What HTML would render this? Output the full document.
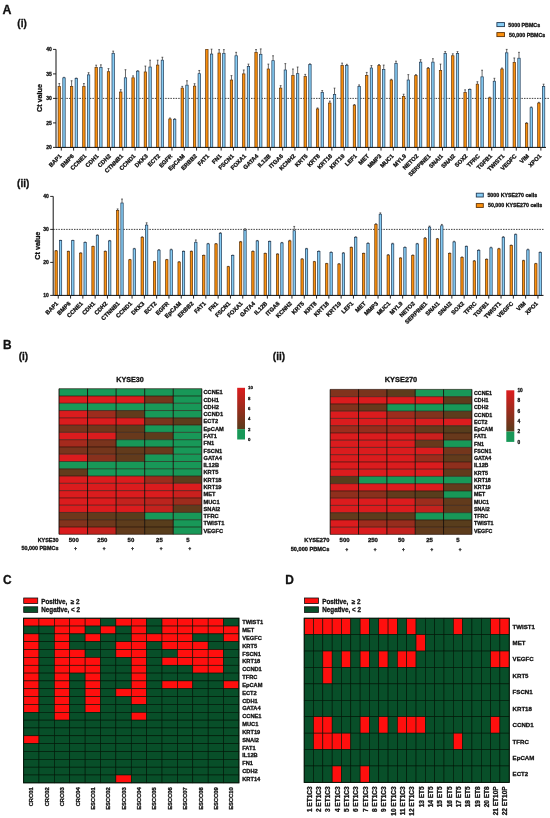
<!DOCTYPE html>
<html lang="en"><head><meta charset="utf-8"><title>Figure</title>
<style>
html,body{margin:0;padding:0;background:#fff;}
body{width:550px;height:818px;overflow:hidden;}
svg{display:block;filter:blur(.35px);}
svg text{font-family:"Liberation Sans",Arial,Helvetica,sans-serif;font-weight:bold;fill:#111;stroke:#111;stroke-width:.3px;stroke-linejoin:round;}
</style></head><body>
<svg width="550" height="818" viewBox="0 0 550 818">
<rect width="550" height="818" fill="#fff"/>
<g id="panelA">
<text x="2.4" y="13.9" font-size="12.4" stroke-width="0.5">A</text>
<text x="17.3" y="26.9" font-size="10">(i)</text>
<text x="17.1" y="187" font-size="10">(ii)</text>
<text transform="translate(42 98) rotate(-90)" font-size="7.2" text-anchor="middle">Ct value</text>
<text transform="translate(40 245.7) rotate(-90)" font-size="7.2" text-anchor="middle">Ct value</text>
<line x1="56" y1="98.40" x2="550" y2="98.40" stroke="#111" stroke-width="0.8" stroke-dasharray="1.5 1.1"/>
<path d="M59.30 86.64V83.55M58.40 83.55h1.8" stroke="#2a2a2a" stroke-width="0.7" fill="none"/>
<rect x="58.10" y="86.64" width="2.4" height="60.76" fill="#fa900e" stroke="#5e3206" stroke-width="0.7"/>
<path d="M64.00 77.82V77.33M63.10 77.33h1.8" stroke="#2a2a2a" stroke-width="0.7" fill="none"/>
<rect x="62.80" y="77.82" width="2.4" height="69.58" fill="#86ccf4" stroke="#203a55" stroke-width="0.7"/>
<path d="M71.60 86.64V80.76M70.70 80.76h1.8" stroke="#2a2a2a" stroke-width="0.7" fill="none"/>
<rect x="70.40" y="86.64" width="2.4" height="60.76" fill="#fa900e" stroke="#5e3206" stroke-width="0.7"/>
<path d="M76.30 78.56V78.07M75.40 78.07h1.8" stroke="#2a2a2a" stroke-width="0.7" fill="none"/>
<rect x="75.10" y="78.56" width="2.4" height="68.84" fill="#86ccf4" stroke="#203a55" stroke-width="0.7"/>
<path d="M83.89 86.64V83.55M82.99 83.55h1.8" stroke="#2a2a2a" stroke-width="0.7" fill="none"/>
<rect x="82.69" y="86.64" width="2.4" height="60.76" fill="#fa900e" stroke="#5e3206" stroke-width="0.7"/>
<path d="M88.59 74.88V72.68M87.69 72.68h1.8" stroke="#2a2a2a" stroke-width="0.7" fill="none"/>
<rect x="87.39" y="74.88" width="2.4" height="72.52" fill="#86ccf4" stroke="#203a55" stroke-width="0.7"/>
<path d="M96.19 67.53V65.18M95.29 65.18h1.8" stroke="#2a2a2a" stroke-width="0.7" fill="none"/>
<rect x="94.99" y="67.53" width="2.4" height="79.87" fill="#fa900e" stroke="#5e3206" stroke-width="0.7"/>
<path d="M100.89 67.53V64.84M99.99 64.84h1.8" stroke="#2a2a2a" stroke-width="0.7" fill="none"/>
<rect x="99.69" y="67.53" width="2.4" height="79.87" fill="#86ccf4" stroke="#203a55" stroke-width="0.7"/>
<path d="M108.49 71.69V68.61M107.59 68.61h1.8" stroke="#2a2a2a" stroke-width="0.7" fill="none"/>
<rect x="107.29" y="71.69" width="2.4" height="75.71" fill="#fa900e" stroke="#5e3206" stroke-width="0.7"/>
<path d="M113.19 53.32V51.11M112.29 51.11h1.8" stroke="#2a2a2a" stroke-width="0.7" fill="none"/>
<rect x="111.99" y="53.32" width="2.4" height="94.08" fill="#86ccf4" stroke="#203a55" stroke-width="0.7"/>
<path d="M120.78 92.03V89.68M119.88 89.68h1.8" stroke="#2a2a2a" stroke-width="0.7" fill="none"/>
<rect x="119.58" y="92.03" width="2.4" height="55.37" fill="#fa900e" stroke="#5e3206" stroke-width="0.7"/>
<path d="M125.48 77.82V69.73M124.58 69.73h1.8" stroke="#2a2a2a" stroke-width="0.7" fill="none"/>
<rect x="124.28" y="77.82" width="2.4" height="69.58" fill="#86ccf4" stroke="#203a55" stroke-width="0.7"/>
<path d="M133.08 77.82V75.86M132.18 75.86h1.8" stroke="#2a2a2a" stroke-width="0.7" fill="none"/>
<rect x="131.88" y="77.82" width="2.4" height="69.58" fill="#fa900e" stroke="#5e3206" stroke-width="0.7"/>
<path d="M137.78 71.21V70.72M136.88 70.72h1.8" stroke="#2a2a2a" stroke-width="0.7" fill="none"/>
<rect x="136.58" y="71.21" width="2.4" height="76.19" fill="#86ccf4" stroke="#203a55" stroke-width="0.7"/>
<path d="M145.38 71.94V66.06M144.48 66.06h1.8" stroke="#2a2a2a" stroke-width="0.7" fill="none"/>
<rect x="144.18" y="71.94" width="2.4" height="75.46" fill="#fa900e" stroke="#5e3206" stroke-width="0.7"/>
<path d="M150.08 67.04V60.18M149.18 60.18h1.8" stroke="#2a2a2a" stroke-width="0.7" fill="none"/>
<rect x="148.88" y="67.04" width="2.4" height="80.36" fill="#86ccf4" stroke="#203a55" stroke-width="0.7"/>
<path d="M157.68 65.08V60.18M156.78 60.18h1.8" stroke="#2a2a2a" stroke-width="0.7" fill="none"/>
<rect x="156.48" y="65.08" width="2.4" height="82.32" fill="#fa900e" stroke="#5e3206" stroke-width="0.7"/>
<path d="M162.38 60.18V57.24M161.48 57.24h1.8" stroke="#2a2a2a" stroke-width="0.7" fill="none"/>
<rect x="161.18" y="60.18" width="2.4" height="87.22" fill="#86ccf4" stroke="#203a55" stroke-width="0.7"/>
<path d="M169.97 118.98V118.00M169.07 118.00h1.8" stroke="#2a2a2a" stroke-width="0.7" fill="none"/>
<rect x="168.77" y="118.98" width="2.4" height="28.42" fill="#fa900e" stroke="#5e3206" stroke-width="0.7"/>
<path d="M174.67 119.47V118.73M173.77 118.73h1.8" stroke="#2a2a2a" stroke-width="0.7" fill="none"/>
<rect x="173.47" y="119.47" width="2.4" height="27.93" fill="#86ccf4" stroke="#203a55" stroke-width="0.7"/>
<path d="M182.27 88.11V86.39M181.37 86.39h1.8" stroke="#2a2a2a" stroke-width="0.7" fill="none"/>
<rect x="181.07" y="88.11" width="2.4" height="59.29" fill="#fa900e" stroke="#5e3206" stroke-width="0.7"/>
<path d="M186.97 85.17V80.76M186.07 80.76h1.8" stroke="#2a2a2a" stroke-width="0.7" fill="none"/>
<rect x="185.77" y="85.17" width="2.4" height="62.23" fill="#86ccf4" stroke="#203a55" stroke-width="0.7"/>
<path d="M194.57 86.15V83.70M193.67 83.70h1.8" stroke="#2a2a2a" stroke-width="0.7" fill="none"/>
<rect x="193.37" y="86.15" width="2.4" height="61.25" fill="#fa900e" stroke="#5e3206" stroke-width="0.7"/>
<path d="M199.27 73.66V70.47M198.37 70.47h1.8" stroke="#2a2a2a" stroke-width="0.7" fill="none"/>
<rect x="198.07" y="73.66" width="2.4" height="73.74" fill="#86ccf4" stroke="#203a55" stroke-width="0.7"/>
<rect x="205.66" y="49.40" width="2.4" height="98.00" fill="#fa900e" stroke="#5e3206" stroke-width="0.7"/>
<path d="M211.56 54.06V49.16M210.66 49.16h1.8" stroke="#2a2a2a" stroke-width="0.7" fill="none"/>
<rect x="210.36" y="54.06" width="2.4" height="93.34" fill="#86ccf4" stroke="#203a55" stroke-width="0.7"/>
<path d="M219.16 53.08V49.65M218.26 49.65h1.8" stroke="#2a2a2a" stroke-width="0.7" fill="none"/>
<rect x="217.96" y="53.08" width="2.4" height="94.33" fill="#fa900e" stroke="#5e3206" stroke-width="0.7"/>
<path d="M223.86 53.32V49.64M222.96 49.64h1.8" stroke="#2a2a2a" stroke-width="0.7" fill="none"/>
<rect x="222.66" y="53.32" width="2.4" height="94.08" fill="#86ccf4" stroke="#203a55" stroke-width="0.7"/>
<path d="M231.46 80.03V75.62M230.56 75.62h1.8" stroke="#2a2a2a" stroke-width="0.7" fill="none"/>
<rect x="230.26" y="80.03" width="2.4" height="67.38" fill="#fa900e" stroke="#5e3206" stroke-width="0.7"/>
<path d="M236.16 55.77V52.34M235.26 52.34h1.8" stroke="#2a2a2a" stroke-width="0.7" fill="none"/>
<rect x="234.96" y="55.77" width="2.4" height="91.63" fill="#86ccf4" stroke="#203a55" stroke-width="0.7"/>
<path d="M243.75 73.90V69.98M242.85 69.98h1.8" stroke="#2a2a2a" stroke-width="0.7" fill="none"/>
<rect x="242.56" y="73.90" width="2.4" height="73.50" fill="#fa900e" stroke="#5e3206" stroke-width="0.7"/>
<path d="M248.45 66.55V64.10M247.55 64.10h1.8" stroke="#2a2a2a" stroke-width="0.7" fill="none"/>
<rect x="247.25" y="66.55" width="2.4" height="80.85" fill="#86ccf4" stroke="#203a55" stroke-width="0.7"/>
<path d="M256.05 52.34V49.55M255.15 49.55h1.8" stroke="#2a2a2a" stroke-width="0.7" fill="none"/>
<rect x="254.85" y="52.34" width="2.4" height="95.06" fill="#fa900e" stroke="#5e3206" stroke-width="0.7"/>
<path d="M260.75 54.30V48.91M259.85 48.91h1.8" stroke="#2a2a2a" stroke-width="0.7" fill="none"/>
<rect x="259.55" y="54.30" width="2.4" height="93.10" fill="#86ccf4" stroke="#203a55" stroke-width="0.7"/>
<path d="M268.35 69.00V64.10M267.45 64.10h1.8" stroke="#2a2a2a" stroke-width="0.7" fill="none"/>
<rect x="267.15" y="69.00" width="2.4" height="78.40" fill="#fa900e" stroke="#5e3206" stroke-width="0.7"/>
<path d="M273.05 60.67V55.77M272.15 55.77h1.8" stroke="#2a2a2a" stroke-width="0.7" fill="none"/>
<rect x="271.85" y="60.67" width="2.4" height="86.73" fill="#86ccf4" stroke="#203a55" stroke-width="0.7"/>
<path d="M280.65 88.11V85.66M279.75 85.66h1.8" stroke="#2a2a2a" stroke-width="0.7" fill="none"/>
<rect x="279.45" y="88.11" width="2.4" height="59.29" fill="#fa900e" stroke="#5e3206" stroke-width="0.7"/>
<path d="M285.35 69.98V63.61M284.45 63.61h1.8" stroke="#2a2a2a" stroke-width="0.7" fill="none"/>
<rect x="284.15" y="69.98" width="2.4" height="77.42" fill="#86ccf4" stroke="#203a55" stroke-width="0.7"/>
<path d="M292.94 75.62V69.00M292.04 69.00h1.8" stroke="#2a2a2a" stroke-width="0.7" fill="none"/>
<rect x="291.74" y="75.62" width="2.4" height="71.78" fill="#fa900e" stroke="#5e3206" stroke-width="0.7"/>
<path d="M297.64 73.66V67.04M296.74 67.04h1.8" stroke="#2a2a2a" stroke-width="0.7" fill="none"/>
<rect x="296.44" y="73.66" width="2.4" height="73.74" fill="#86ccf4" stroke="#203a55" stroke-width="0.7"/>
<path d="M305.24 76.59V74.39M304.34 74.39h1.8" stroke="#2a2a2a" stroke-width="0.7" fill="none"/>
<rect x="304.04" y="76.59" width="2.4" height="70.81" fill="#fa900e" stroke="#5e3206" stroke-width="0.7"/>
<path d="M309.94 64.59V63.86M309.04 63.86h1.8" stroke="#2a2a2a" stroke-width="0.7" fill="none"/>
<rect x="308.74" y="64.59" width="2.4" height="82.81" fill="#86ccf4" stroke="#203a55" stroke-width="0.7"/>
<path d="M317.54 108.94V107.95M316.64 107.95h1.8" stroke="#2a2a2a" stroke-width="0.7" fill="none"/>
<rect x="316.34" y="108.94" width="2.4" height="38.47" fill="#fa900e" stroke="#5e3206" stroke-width="0.7"/>
<path d="M322.24 92.52V90.56M321.34 90.56h1.8" stroke="#2a2a2a" stroke-width="0.7" fill="none"/>
<rect x="321.04" y="92.52" width="2.4" height="54.88" fill="#86ccf4" stroke="#203a55" stroke-width="0.7"/>
<path d="M329.83 103.06V101.10M328.93 101.10h1.8" stroke="#2a2a2a" stroke-width="0.7" fill="none"/>
<rect x="328.63" y="103.06" width="2.4" height="44.34" fill="#fa900e" stroke="#5e3206" stroke-width="0.7"/>
<path d="M334.53 94.48V88.11M333.63 88.11h1.8" stroke="#2a2a2a" stroke-width="0.7" fill="none"/>
<rect x="333.33" y="94.48" width="2.4" height="52.92" fill="#86ccf4" stroke="#203a55" stroke-width="0.7"/>
<path d="M342.13 65.57V63.12M341.23 63.12h1.8" stroke="#2a2a2a" stroke-width="0.7" fill="none"/>
<rect x="340.93" y="65.57" width="2.4" height="81.83" fill="#fa900e" stroke="#5e3206" stroke-width="0.7"/>
<path d="M346.83 65.57V64.34M345.93 64.34h1.8" stroke="#2a2a2a" stroke-width="0.7" fill="none"/>
<rect x="345.63" y="65.57" width="2.4" height="81.83" fill="#86ccf4" stroke="#203a55" stroke-width="0.7"/>
<path d="M354.43 105.26V104.52M353.53 104.52h1.8" stroke="#2a2a2a" stroke-width="0.7" fill="none"/>
<rect x="353.23" y="105.26" width="2.4" height="42.14" fill="#fa900e" stroke="#5e3206" stroke-width="0.7"/>
<path d="M359.13 86.39V84.92M358.23 84.92h1.8" stroke="#2a2a2a" stroke-width="0.7" fill="none"/>
<rect x="357.93" y="86.39" width="2.4" height="61.01" fill="#86ccf4" stroke="#203a55" stroke-width="0.7"/>
<path d="M366.73 75.62V72.43M365.83 72.43h1.8" stroke="#2a2a2a" stroke-width="0.7" fill="none"/>
<rect x="365.53" y="75.62" width="2.4" height="71.78" fill="#fa900e" stroke="#5e3206" stroke-width="0.7"/>
<path d="M371.43 68.02V65.57M370.53 65.57h1.8" stroke="#2a2a2a" stroke-width="0.7" fill="none"/>
<rect x="370.23" y="68.02" width="2.4" height="79.38" fill="#86ccf4" stroke="#203a55" stroke-width="0.7"/>
<path d="M379.02 65.57V64.59M378.12 64.59h1.8" stroke="#2a2a2a" stroke-width="0.7" fill="none"/>
<rect x="377.82" y="65.57" width="2.4" height="81.83" fill="#fa900e" stroke="#5e3206" stroke-width="0.7"/>
<path d="M383.72 69.49V65.08M382.82 65.08h1.8" stroke="#2a2a2a" stroke-width="0.7" fill="none"/>
<rect x="382.52" y="69.49" width="2.4" height="77.91" fill="#86ccf4" stroke="#203a55" stroke-width="0.7"/>
<path d="M391.32 80.03V79.29M390.42 79.29h1.8" stroke="#2a2a2a" stroke-width="0.7" fill="none"/>
<rect x="390.12" y="80.03" width="2.4" height="67.38" fill="#fa900e" stroke="#5e3206" stroke-width="0.7"/>
<path d="M396.02 63.61V61.16M395.12 61.16h1.8" stroke="#2a2a2a" stroke-width="0.7" fill="none"/>
<rect x="394.82" y="63.61" width="2.4" height="83.79" fill="#86ccf4" stroke="#203a55" stroke-width="0.7"/>
<path d="M403.62 96.44V94.24M402.72 94.24h1.8" stroke="#2a2a2a" stroke-width="0.7" fill="none"/>
<rect x="402.42" y="96.44" width="2.4" height="50.96" fill="#fa900e" stroke="#5e3206" stroke-width="0.7"/>
<path d="M408.32 80.03V74.64M407.42 74.64h1.8" stroke="#2a2a2a" stroke-width="0.7" fill="none"/>
<rect x="407.12" y="80.03" width="2.4" height="67.38" fill="#86ccf4" stroke="#203a55" stroke-width="0.7"/>
<path d="M415.91 75.62V74.64M415.01 74.64h1.8" stroke="#2a2a2a" stroke-width="0.7" fill="none"/>
<rect x="414.71" y="75.62" width="2.4" height="71.78" fill="#fa900e" stroke="#5e3206" stroke-width="0.7"/>
<path d="M420.61 62.14V59.69M419.71 59.69h1.8" stroke="#2a2a2a" stroke-width="0.7" fill="none"/>
<rect x="419.41" y="62.14" width="2.4" height="85.26" fill="#86ccf4" stroke="#203a55" stroke-width="0.7"/>
<path d="M428.21 68.51V67.53M427.31 67.53h1.8" stroke="#2a2a2a" stroke-width="0.7" fill="none"/>
<rect x="427.01" y="68.51" width="2.4" height="78.89" fill="#fa900e" stroke="#5e3206" stroke-width="0.7"/>
<path d="M432.91 62.14V58.71M432.01 58.71h1.8" stroke="#2a2a2a" stroke-width="0.7" fill="none"/>
<rect x="431.71" y="62.14" width="2.4" height="85.26" fill="#86ccf4" stroke="#203a55" stroke-width="0.7"/>
<path d="M440.51 70.47V64.10M439.61 64.10h1.8" stroke="#2a2a2a" stroke-width="0.7" fill="none"/>
<rect x="439.31" y="70.47" width="2.4" height="76.93" fill="#fa900e" stroke="#5e3206" stroke-width="0.7"/>
<path d="M445.21 53.57V51.61M444.31 51.61h1.8" stroke="#2a2a2a" stroke-width="0.7" fill="none"/>
<rect x="444.01" y="53.57" width="2.4" height="93.83" fill="#86ccf4" stroke="#203a55" stroke-width="0.7"/>
<path d="M452.80 55.77V53.81M451.90 53.81h1.8" stroke="#2a2a2a" stroke-width="0.7" fill="none"/>
<rect x="451.60" y="55.77" width="2.4" height="91.63" fill="#fa900e" stroke="#5e3206" stroke-width="0.7"/>
<path d="M457.50 53.57V51.61M456.60 51.61h1.8" stroke="#2a2a2a" stroke-width="0.7" fill="none"/>
<rect x="456.30" y="53.57" width="2.4" height="93.83" fill="#86ccf4" stroke="#203a55" stroke-width="0.7"/>
<path d="M465.10 92.52V89.83M464.20 89.83h1.8" stroke="#2a2a2a" stroke-width="0.7" fill="none"/>
<rect x="463.90" y="92.52" width="2.4" height="54.88" fill="#fa900e" stroke="#5e3206" stroke-width="0.7"/>
<path d="M469.80 89.58V89.09M468.90 89.09h1.8" stroke="#2a2a2a" stroke-width="0.7" fill="none"/>
<rect x="468.60" y="89.58" width="2.4" height="57.82" fill="#86ccf4" stroke="#203a55" stroke-width="0.7"/>
<path d="M477.40 84.19V81.74M476.50 81.74h1.8" stroke="#2a2a2a" stroke-width="0.7" fill="none"/>
<rect x="476.20" y="84.19" width="2.4" height="63.21" fill="#fa900e" stroke="#5e3206" stroke-width="0.7"/>
<path d="M482.10 76.84V70.23M481.20 70.23h1.8" stroke="#2a2a2a" stroke-width="0.7" fill="none"/>
<rect x="480.90" y="76.84" width="2.4" height="70.56" fill="#86ccf4" stroke="#203a55" stroke-width="0.7"/>
<path d="M489.70 97.91V97.17M488.80 97.17h1.8" stroke="#2a2a2a" stroke-width="0.7" fill="none"/>
<rect x="488.50" y="97.91" width="2.4" height="49.49" fill="#fa900e" stroke="#5e3206" stroke-width="0.7"/>
<path d="M494.40 81.25V78.31M493.50 78.31h1.8" stroke="#2a2a2a" stroke-width="0.7" fill="none"/>
<rect x="493.20" y="81.25" width="2.4" height="66.15" fill="#86ccf4" stroke="#203a55" stroke-width="0.7"/>
<path d="M501.99 69.00V68.02M501.09 68.02h1.8" stroke="#2a2a2a" stroke-width="0.7" fill="none"/>
<rect x="500.79" y="69.00" width="2.4" height="78.40" fill="#fa900e" stroke="#5e3206" stroke-width="0.7"/>
<path d="M506.69 52.83V49.40M505.79 49.40h1.8" stroke="#2a2a2a" stroke-width="0.7" fill="none"/>
<rect x="505.49" y="52.83" width="2.4" height="94.57" fill="#86ccf4" stroke="#203a55" stroke-width="0.7"/>
<path d="M514.29 62.38V57.97M513.39 57.97h1.8" stroke="#2a2a2a" stroke-width="0.7" fill="none"/>
<rect x="513.09" y="62.38" width="2.4" height="85.02" fill="#fa900e" stroke="#5e3206" stroke-width="0.7"/>
<path d="M518.99 58.22V52.34M518.09 52.34h1.8" stroke="#2a2a2a" stroke-width="0.7" fill="none"/>
<rect x="517.79" y="58.22" width="2.4" height="89.18" fill="#86ccf4" stroke="#203a55" stroke-width="0.7"/>
<path d="M526.59 123.39V122.66M525.69 122.66h1.8" stroke="#2a2a2a" stroke-width="0.7" fill="none"/>
<rect x="525.39" y="123.39" width="2.4" height="24.01" fill="#fa900e" stroke="#5e3206" stroke-width="0.7"/>
<path d="M531.29 107.71V106.97M530.39 106.97h1.8" stroke="#2a2a2a" stroke-width="0.7" fill="none"/>
<rect x="530.09" y="107.71" width="2.4" height="39.69" fill="#86ccf4" stroke="#203a55" stroke-width="0.7"/>
<path d="M538.88 103.06V102.32M537.98 102.32h1.8" stroke="#2a2a2a" stroke-width="0.7" fill="none"/>
<rect x="537.68" y="103.06" width="2.4" height="44.34" fill="#fa900e" stroke="#5e3206" stroke-width="0.7"/>
<path d="M543.58 86.64V84.19M542.68 84.19h1.8" stroke="#2a2a2a" stroke-width="0.7" fill="none"/>
<rect x="542.38" y="86.64" width="2.4" height="60.76" fill="#86ccf4" stroke="#203a55" stroke-width="0.7"/>
<path d="M56 49.40V147.4H546" stroke="#111" stroke-width="1" fill="none"/>
<line x1="53" y1="147.40" x2="56" y2="147.40" stroke="#111" stroke-width="0.9"/>
<text x="51.7" y="149.20" font-size="5" text-anchor="end">20</text>
<line x1="53" y1="122.90" x2="56" y2="122.90" stroke="#111" stroke-width="0.9"/>
<text x="51.7" y="124.70" font-size="5" text-anchor="end">25</text>
<line x1="53" y1="98.40" x2="56" y2="98.40" stroke="#111" stroke-width="0.9"/>
<text x="51.7" y="100.20" font-size="5" text-anchor="end">30</text>
<line x1="53" y1="73.90" x2="56" y2="73.90" stroke="#111" stroke-width="0.9"/>
<text x="51.7" y="75.70" font-size="5" text-anchor="end">35</text>
<line x1="53" y1="49.40" x2="56" y2="49.40" stroke="#111" stroke-width="0.9"/>
<text x="51.7" y="51.20" font-size="5" text-anchor="end">40</text>
<line x1="61.30" y1="147.4" x2="61.30" y2="150.6" stroke="#111" stroke-width="0.9"/>
<text transform="translate(62.10 156.5) rotate(-45)" font-size="5.8" text-anchor="end">BAP1</text>
<line x1="73.60" y1="147.4" x2="73.60" y2="150.6" stroke="#111" stroke-width="0.9"/>
<text transform="translate(74.40 156.5) rotate(-45)" font-size="5.8" text-anchor="end">BMP6</text>
<line x1="85.89" y1="147.4" x2="85.89" y2="150.6" stroke="#111" stroke-width="0.9"/>
<text transform="translate(86.69 156.5) rotate(-45)" font-size="5.8" text-anchor="end">CCNE1</text>
<line x1="98.19" y1="147.4" x2="98.19" y2="150.6" stroke="#111" stroke-width="0.9"/>
<text transform="translate(98.99 156.5) rotate(-45)" font-size="5.8" text-anchor="end">CDH1</text>
<line x1="110.49" y1="147.4" x2="110.49" y2="150.6" stroke="#111" stroke-width="0.9"/>
<text transform="translate(111.29 156.5) rotate(-45)" font-size="5.8" text-anchor="end">CDH2</text>
<line x1="122.78" y1="147.4" x2="122.78" y2="150.6" stroke="#111" stroke-width="0.9"/>
<text transform="translate(123.58 156.5) rotate(-45)" font-size="5.8" text-anchor="end">CTNNB1</text>
<line x1="135.08" y1="147.4" x2="135.08" y2="150.6" stroke="#111" stroke-width="0.9"/>
<text transform="translate(135.88 156.5) rotate(-45)" font-size="5.8" text-anchor="end">CCND1</text>
<line x1="147.38" y1="147.4" x2="147.38" y2="150.6" stroke="#111" stroke-width="0.9"/>
<text transform="translate(148.18 156.5) rotate(-45)" font-size="5.8" text-anchor="end">DKK3</text>
<line x1="159.68" y1="147.4" x2="159.68" y2="150.6" stroke="#111" stroke-width="0.9"/>
<text transform="translate(160.48 156.5) rotate(-45)" font-size="5.8" text-anchor="end">ECT2</text>
<line x1="171.97" y1="147.4" x2="171.97" y2="150.6" stroke="#111" stroke-width="0.9"/>
<text transform="translate(172.77 156.5) rotate(-45)" font-size="5.8" text-anchor="end">EGFR</text>
<line x1="184.27" y1="147.4" x2="184.27" y2="150.6" stroke="#111" stroke-width="0.9"/>
<text transform="translate(185.07 156.5) rotate(-45)" font-size="5.8" text-anchor="end">EpCAM</text>
<line x1="196.57" y1="147.4" x2="196.57" y2="150.6" stroke="#111" stroke-width="0.9"/>
<text transform="translate(197.37 156.5) rotate(-45)" font-size="5.8" text-anchor="end">ERBB2</text>
<line x1="208.86" y1="147.4" x2="208.86" y2="150.6" stroke="#111" stroke-width="0.9"/>
<text transform="translate(209.66 156.5) rotate(-45)" font-size="5.8" text-anchor="end">FAT1</text>
<line x1="221.16" y1="147.4" x2="221.16" y2="150.6" stroke="#111" stroke-width="0.9"/>
<text transform="translate(221.96 156.5) rotate(-45)" font-size="5.8" text-anchor="end">FN1</text>
<line x1="233.46" y1="147.4" x2="233.46" y2="150.6" stroke="#111" stroke-width="0.9"/>
<text transform="translate(234.26 156.5) rotate(-45)" font-size="5.8" text-anchor="end">FSCN1</text>
<line x1="245.75" y1="147.4" x2="245.75" y2="150.6" stroke="#111" stroke-width="0.9"/>
<text transform="translate(246.56 156.5) rotate(-45)" font-size="5.8" text-anchor="end">FOXA1</text>
<line x1="258.05" y1="147.4" x2="258.05" y2="150.6" stroke="#111" stroke-width="0.9"/>
<text transform="translate(258.85 156.5) rotate(-45)" font-size="5.8" text-anchor="end">GATA4</text>
<line x1="270.35" y1="147.4" x2="270.35" y2="150.6" stroke="#111" stroke-width="0.9"/>
<text transform="translate(271.15 156.5) rotate(-45)" font-size="5.8" text-anchor="end">IL12B</text>
<line x1="282.65" y1="147.4" x2="282.65" y2="150.6" stroke="#111" stroke-width="0.9"/>
<text transform="translate(283.45 156.5) rotate(-45)" font-size="5.8" text-anchor="end">ITGA6</text>
<line x1="294.94" y1="147.4" x2="294.94" y2="150.6" stroke="#111" stroke-width="0.9"/>
<text transform="translate(295.74 156.5) rotate(-45)" font-size="5.8" text-anchor="end">KCNH2</text>
<line x1="307.24" y1="147.4" x2="307.24" y2="150.6" stroke="#111" stroke-width="0.9"/>
<text transform="translate(308.04 156.5) rotate(-45)" font-size="5.8" text-anchor="end">KRT5</text>
<line x1="319.54" y1="147.4" x2="319.54" y2="150.6" stroke="#111" stroke-width="0.9"/>
<text transform="translate(320.34 156.5) rotate(-45)" font-size="5.8" text-anchor="end">KRT8</text>
<line x1="331.83" y1="147.4" x2="331.83" y2="150.6" stroke="#111" stroke-width="0.9"/>
<text transform="translate(332.63 156.5) rotate(-45)" font-size="5.8" text-anchor="end">KRT18</text>
<line x1="344.13" y1="147.4" x2="344.13" y2="150.6" stroke="#111" stroke-width="0.9"/>
<text transform="translate(344.93 156.5) rotate(-45)" font-size="5.8" text-anchor="end">KRT19</text>
<line x1="356.43" y1="147.4" x2="356.43" y2="150.6" stroke="#111" stroke-width="0.9"/>
<text transform="translate(357.23 156.5) rotate(-45)" font-size="5.8" text-anchor="end">LEF1</text>
<line x1="368.73" y1="147.4" x2="368.73" y2="150.6" stroke="#111" stroke-width="0.9"/>
<text transform="translate(369.53 156.5) rotate(-45)" font-size="5.8" text-anchor="end">MET</text>
<line x1="381.02" y1="147.4" x2="381.02" y2="150.6" stroke="#111" stroke-width="0.9"/>
<text transform="translate(381.82 156.5) rotate(-45)" font-size="5.8" text-anchor="end">MMP3</text>
<line x1="393.32" y1="147.4" x2="393.32" y2="150.6" stroke="#111" stroke-width="0.9"/>
<text transform="translate(394.12 156.5) rotate(-45)" font-size="5.8" text-anchor="end">MUC1</text>
<line x1="405.62" y1="147.4" x2="405.62" y2="150.6" stroke="#111" stroke-width="0.9"/>
<text transform="translate(406.42 156.5) rotate(-45)" font-size="5.8" text-anchor="end">MYL9</text>
<line x1="417.91" y1="147.4" x2="417.91" y2="150.6" stroke="#111" stroke-width="0.9"/>
<text transform="translate(418.71 156.5) rotate(-45)" font-size="5.8" text-anchor="end">NETO2</text>
<line x1="430.21" y1="147.4" x2="430.21" y2="150.6" stroke="#111" stroke-width="0.9"/>
<text transform="translate(431.01 156.5) rotate(-45)" font-size="5.8" text-anchor="end">SERPINE1</text>
<line x1="442.51" y1="147.4" x2="442.51" y2="150.6" stroke="#111" stroke-width="0.9"/>
<text transform="translate(443.31 156.5) rotate(-45)" font-size="5.8" text-anchor="end">SNAI1</text>
<line x1="454.80" y1="147.4" x2="454.80" y2="150.6" stroke="#111" stroke-width="0.9"/>
<text transform="translate(455.60 156.5) rotate(-45)" font-size="5.8" text-anchor="end">SNAI2</text>
<line x1="467.10" y1="147.4" x2="467.10" y2="150.6" stroke="#111" stroke-width="0.9"/>
<text transform="translate(467.90 156.5) rotate(-45)" font-size="5.8" text-anchor="end">SOX2</text>
<line x1="479.40" y1="147.4" x2="479.40" y2="150.6" stroke="#111" stroke-width="0.9"/>
<text transform="translate(480.20 156.5) rotate(-45)" font-size="5.8" text-anchor="end">TFRC</text>
<line x1="491.70" y1="147.4" x2="491.70" y2="150.6" stroke="#111" stroke-width="0.9"/>
<text transform="translate(492.50 156.5) rotate(-45)" font-size="5.8" text-anchor="end">TGFB1</text>
<line x1="503.99" y1="147.4" x2="503.99" y2="150.6" stroke="#111" stroke-width="0.9"/>
<text transform="translate(504.79 156.5) rotate(-45)" font-size="5.8" text-anchor="end">TWIST1</text>
<line x1="516.29" y1="147.4" x2="516.29" y2="150.6" stroke="#111" stroke-width="0.9"/>
<text transform="translate(517.09 156.5) rotate(-45)" font-size="5.8" text-anchor="end">VEGFC</text>
<line x1="528.59" y1="147.4" x2="528.59" y2="150.6" stroke="#111" stroke-width="0.9"/>
<text transform="translate(529.39 156.5) rotate(-45)" font-size="5.8" text-anchor="end">VIM</text>
<line x1="540.88" y1="147.4" x2="540.88" y2="150.6" stroke="#111" stroke-width="0.9"/>
<text transform="translate(541.68 156.5) rotate(-45)" font-size="5.8" text-anchor="end">XPO1</text>
<line x1="53.2" y1="229.40" x2="543.5" y2="229.40" stroke="#111" stroke-width="0.8" stroke-dasharray="1.5 1.1"/>
<path d="M56.12 250.85V250.52M55.23 250.52h1.8" stroke="#2a2a2a" stroke-width="0.7" fill="none"/>
<rect x="54.95" y="250.85" width="2.35" height="44.55" fill="#fa900e" stroke="#5e3206" stroke-width="0.7"/>
<path d="M60.52 240.62V240.29M59.62 240.29h1.8" stroke="#2a2a2a" stroke-width="0.7" fill="none"/>
<rect x="59.35" y="240.62" width="2.35" height="54.78" fill="#86ccf4" stroke="#203a55" stroke-width="0.7"/>
<path d="M68.42 251.51V251.18M67.52 251.18h1.8" stroke="#2a2a2a" stroke-width="0.7" fill="none"/>
<rect x="67.25" y="251.51" width="2.35" height="43.89" fill="#fa900e" stroke="#5e3206" stroke-width="0.7"/>
<path d="M72.82 240.62V240.29M71.92 240.29h1.8" stroke="#2a2a2a" stroke-width="0.7" fill="none"/>
<rect x="71.65" y="240.62" width="2.35" height="54.78" fill="#86ccf4" stroke="#203a55" stroke-width="0.7"/>
<path d="M80.72 253.16V252.83M79.82 252.83h1.8" stroke="#2a2a2a" stroke-width="0.7" fill="none"/>
<rect x="79.55" y="253.16" width="2.35" height="42.24" fill="#fa900e" stroke="#5e3206" stroke-width="0.7"/>
<path d="M85.12 242.60V242.10M84.22 242.10h1.8" stroke="#2a2a2a" stroke-width="0.7" fill="none"/>
<rect x="83.95" y="242.60" width="2.35" height="52.80" fill="#86ccf4" stroke="#203a55" stroke-width="0.7"/>
<path d="M93.03 246.56V246.23M92.12 246.23h1.8" stroke="#2a2a2a" stroke-width="0.7" fill="none"/>
<rect x="91.85" y="246.56" width="2.35" height="48.84" fill="#fa900e" stroke="#5e3206" stroke-width="0.7"/>
<path d="M97.42 235.34V234.84M96.52 234.84h1.8" stroke="#2a2a2a" stroke-width="0.7" fill="none"/>
<rect x="96.25" y="235.34" width="2.35" height="60.06" fill="#86ccf4" stroke="#203a55" stroke-width="0.7"/>
<path d="M105.33 251.51V251.01M104.42 251.01h1.8" stroke="#2a2a2a" stroke-width="0.7" fill="none"/>
<rect x="104.15" y="251.51" width="2.35" height="43.89" fill="#fa900e" stroke="#5e3206" stroke-width="0.7"/>
<path d="M109.72 240.95V240.45M108.82 240.45h1.8" stroke="#2a2a2a" stroke-width="0.7" fill="none"/>
<rect x="108.55" y="240.95" width="2.35" height="54.45" fill="#86ccf4" stroke="#203a55" stroke-width="0.7"/>
<path d="M117.62 210.59V208.94M116.72 208.94h1.8" stroke="#2a2a2a" stroke-width="0.7" fill="none"/>
<rect x="116.45" y="210.59" width="2.35" height="84.81" fill="#fa900e" stroke="#5e3206" stroke-width="0.7"/>
<path d="M122.02 203.00V199.04M121.12 199.04h1.8" stroke="#2a2a2a" stroke-width="0.7" fill="none"/>
<rect x="120.85" y="203.00" width="2.35" height="92.40" fill="#86ccf4" stroke="#203a55" stroke-width="0.7"/>
<path d="M129.93 259.76V259.43M129.03 259.43h1.8" stroke="#2a2a2a" stroke-width="0.7" fill="none"/>
<rect x="128.75" y="259.76" width="2.35" height="35.64" fill="#fa900e" stroke="#5e3206" stroke-width="0.7"/>
<path d="M134.33 248.87V248.37M133.43 248.37h1.8" stroke="#2a2a2a" stroke-width="0.7" fill="none"/>
<rect x="133.15" y="248.87" width="2.35" height="46.53" fill="#86ccf4" stroke="#203a55" stroke-width="0.7"/>
<path d="M142.23 237.32V236.82M141.33 236.82h1.8" stroke="#2a2a2a" stroke-width="0.7" fill="none"/>
<rect x="141.05" y="237.32" width="2.35" height="58.08" fill="#fa900e" stroke="#5e3206" stroke-width="0.7"/>
<path d="M146.63 225.11V222.80M145.73 222.80h1.8" stroke="#2a2a2a" stroke-width="0.7" fill="none"/>
<rect x="145.45" y="225.11" width="2.35" height="70.29" fill="#86ccf4" stroke="#203a55" stroke-width="0.7"/>
<path d="M154.53 261.74V261.41M153.62 261.41h1.8" stroke="#2a2a2a" stroke-width="0.7" fill="none"/>
<rect x="153.35" y="261.74" width="2.35" height="33.66" fill="#fa900e" stroke="#5e3206" stroke-width="0.7"/>
<path d="M158.93 250.19V249.69M158.03 249.69h1.8" stroke="#2a2a2a" stroke-width="0.7" fill="none"/>
<rect x="157.75" y="250.19" width="2.35" height="45.21" fill="#86ccf4" stroke="#203a55" stroke-width="0.7"/>
<path d="M166.82 259.76V259.43M165.92 259.43h1.8" stroke="#2a2a2a" stroke-width="0.7" fill="none"/>
<rect x="165.65" y="259.76" width="2.35" height="35.64" fill="#fa900e" stroke="#5e3206" stroke-width="0.7"/>
<path d="M171.22 249.86V249.20M170.32 249.20h1.8" stroke="#2a2a2a" stroke-width="0.7" fill="none"/>
<rect x="170.05" y="249.86" width="2.35" height="45.54" fill="#86ccf4" stroke="#203a55" stroke-width="0.7"/>
<path d="M179.12 262.07V261.74M178.22 261.74h1.8" stroke="#2a2a2a" stroke-width="0.7" fill="none"/>
<rect x="177.95" y="262.07" width="2.35" height="33.33" fill="#fa900e" stroke="#5e3206" stroke-width="0.7"/>
<path d="M183.53 251.51V251.01M182.62 251.01h1.8" stroke="#2a2a2a" stroke-width="0.7" fill="none"/>
<rect x="182.35" y="251.51" width="2.35" height="43.89" fill="#86ccf4" stroke="#203a55" stroke-width="0.7"/>
<path d="M191.43 251.51V251.01M190.53 251.01h1.8" stroke="#2a2a2a" stroke-width="0.7" fill="none"/>
<rect x="190.25" y="251.51" width="2.35" height="43.89" fill="#fa900e" stroke="#5e3206" stroke-width="0.7"/>
<path d="M195.83 242.27V239.96M194.93 239.96h1.8" stroke="#2a2a2a" stroke-width="0.7" fill="none"/>
<rect x="194.65" y="242.27" width="2.35" height="53.13" fill="#86ccf4" stroke="#203a55" stroke-width="0.7"/>
<path d="M203.73 255.47V255.14M202.83 255.14h1.8" stroke="#2a2a2a" stroke-width="0.7" fill="none"/>
<rect x="202.55" y="255.47" width="2.35" height="39.93" fill="#fa900e" stroke="#5e3206" stroke-width="0.7"/>
<path d="M208.13 243.92V243.42M207.23 243.42h1.8" stroke="#2a2a2a" stroke-width="0.7" fill="none"/>
<rect x="206.95" y="243.92" width="2.35" height="51.48" fill="#86ccf4" stroke="#203a55" stroke-width="0.7"/>
<path d="M216.03 243.92V243.59M215.12 243.59h1.8" stroke="#2a2a2a" stroke-width="0.7" fill="none"/>
<rect x="214.85" y="243.92" width="2.35" height="51.48" fill="#fa900e" stroke="#5e3206" stroke-width="0.7"/>
<path d="M220.43 233.36V232.70M219.53 232.70h1.8" stroke="#2a2a2a" stroke-width="0.7" fill="none"/>
<rect x="219.25" y="233.36" width="2.35" height="62.04" fill="#86ccf4" stroke="#203a55" stroke-width="0.7"/>
<path d="M228.33 266.69V266.36M227.43 266.36h1.8" stroke="#2a2a2a" stroke-width="0.7" fill="none"/>
<rect x="227.15" y="266.69" width="2.35" height="28.71" fill="#fa900e" stroke="#5e3206" stroke-width="0.7"/>
<path d="M232.73 255.47V255.14M231.83 255.14h1.8" stroke="#2a2a2a" stroke-width="0.7" fill="none"/>
<rect x="231.55" y="255.47" width="2.35" height="39.93" fill="#86ccf4" stroke="#203a55" stroke-width="0.7"/>
<path d="M240.62 241.94V241.44M239.72 241.44h1.8" stroke="#2a2a2a" stroke-width="0.7" fill="none"/>
<rect x="239.45" y="241.94" width="2.35" height="53.46" fill="#fa900e" stroke="#5e3206" stroke-width="0.7"/>
<path d="M245.03 230.39V228.74M244.12 228.74h1.8" stroke="#2a2a2a" stroke-width="0.7" fill="none"/>
<rect x="243.85" y="230.39" width="2.35" height="65.01" fill="#86ccf4" stroke="#203a55" stroke-width="0.7"/>
<path d="M252.93 251.51V251.01M252.03 251.01h1.8" stroke="#2a2a2a" stroke-width="0.7" fill="none"/>
<rect x="251.75" y="251.51" width="2.35" height="43.89" fill="#fa900e" stroke="#5e3206" stroke-width="0.7"/>
<path d="M257.33 240.95V240.45M256.43 240.45h1.8" stroke="#2a2a2a" stroke-width="0.7" fill="none"/>
<rect x="256.15" y="240.95" width="2.35" height="54.45" fill="#86ccf4" stroke="#203a55" stroke-width="0.7"/>
<path d="M265.23 253.49V253.16M264.33 253.16h1.8" stroke="#2a2a2a" stroke-width="0.7" fill="none"/>
<rect x="264.05" y="253.49" width="2.35" height="41.91" fill="#fa900e" stroke="#5e3206" stroke-width="0.7"/>
<path d="M269.63 241.61V241.11M268.73 241.11h1.8" stroke="#2a2a2a" stroke-width="0.7" fill="none"/>
<rect x="268.45" y="241.61" width="2.35" height="53.79" fill="#86ccf4" stroke="#203a55" stroke-width="0.7"/>
<path d="M277.52 254.15V253.82M276.62 253.82h1.8" stroke="#2a2a2a" stroke-width="0.7" fill="none"/>
<rect x="276.35" y="254.15" width="2.35" height="41.25" fill="#fa900e" stroke="#5e3206" stroke-width="0.7"/>
<path d="M281.93 242.93V242.43M281.03 242.43h1.8" stroke="#2a2a2a" stroke-width="0.7" fill="none"/>
<rect x="280.75" y="242.93" width="2.35" height="52.47" fill="#86ccf4" stroke="#203a55" stroke-width="0.7"/>
<path d="M289.83 240.95V240.29M288.93 240.29h1.8" stroke="#2a2a2a" stroke-width="0.7" fill="none"/>
<rect x="288.65" y="240.95" width="2.35" height="54.45" fill="#fa900e" stroke="#5e3206" stroke-width="0.7"/>
<path d="M294.23 230.72V226.43M293.33 226.43h1.8" stroke="#2a2a2a" stroke-width="0.7" fill="none"/>
<rect x="293.05" y="230.72" width="2.35" height="64.68" fill="#86ccf4" stroke="#203a55" stroke-width="0.7"/>
<path d="M302.12 259.10V258.77M301.23 258.77h1.8" stroke="#2a2a2a" stroke-width="0.7" fill="none"/>
<rect x="300.95" y="259.10" width="2.35" height="36.30" fill="#fa900e" stroke="#5e3206" stroke-width="0.7"/>
<path d="M306.53 248.87V248.37M305.63 248.37h1.8" stroke="#2a2a2a" stroke-width="0.7" fill="none"/>
<rect x="305.35" y="248.87" width="2.35" height="46.53" fill="#86ccf4" stroke="#203a55" stroke-width="0.7"/>
<path d="M314.43 261.74V261.41M313.53 261.41h1.8" stroke="#2a2a2a" stroke-width="0.7" fill="none"/>
<rect x="313.25" y="261.74" width="2.35" height="33.66" fill="#fa900e" stroke="#5e3206" stroke-width="0.7"/>
<path d="M318.83 251.51V251.01M317.93 251.01h1.8" stroke="#2a2a2a" stroke-width="0.7" fill="none"/>
<rect x="317.65" y="251.51" width="2.35" height="43.89" fill="#86ccf4" stroke="#203a55" stroke-width="0.7"/>
<path d="M326.73 263.72V263.39M325.83 263.39h1.8" stroke="#2a2a2a" stroke-width="0.7" fill="none"/>
<rect x="325.55" y="263.72" width="2.35" height="31.68" fill="#fa900e" stroke="#5e3206" stroke-width="0.7"/>
<path d="M331.13 252.50V252.00M330.23 252.00h1.8" stroke="#2a2a2a" stroke-width="0.7" fill="none"/>
<rect x="329.95" y="252.50" width="2.35" height="42.90" fill="#86ccf4" stroke="#203a55" stroke-width="0.7"/>
<path d="M339.03 264.05V263.72M338.13 263.72h1.8" stroke="#2a2a2a" stroke-width="0.7" fill="none"/>
<rect x="337.85" y="264.05" width="2.35" height="31.35" fill="#fa900e" stroke="#5e3206" stroke-width="0.7"/>
<path d="M343.43 253.16V252.66M342.53 252.66h1.8" stroke="#2a2a2a" stroke-width="0.7" fill="none"/>
<rect x="342.25" y="253.16" width="2.35" height="42.24" fill="#86ccf4" stroke="#203a55" stroke-width="0.7"/>
<path d="M351.33 247.55V247.05M350.43 247.05h1.8" stroke="#2a2a2a" stroke-width="0.7" fill="none"/>
<rect x="350.15" y="247.55" width="2.35" height="47.85" fill="#fa900e" stroke="#5e3206" stroke-width="0.7"/>
<path d="M355.73 237.32V236.82M354.83 236.82h1.8" stroke="#2a2a2a" stroke-width="0.7" fill="none"/>
<rect x="354.55" y="237.32" width="2.35" height="58.08" fill="#86ccf4" stroke="#203a55" stroke-width="0.7"/>
<path d="M363.62 253.49V253.16M362.73 253.16h1.8" stroke="#2a2a2a" stroke-width="0.7" fill="none"/>
<rect x="362.45" y="253.49" width="2.35" height="41.91" fill="#fa900e" stroke="#5e3206" stroke-width="0.7"/>
<path d="M368.03 243.59V242.93M367.13 242.93h1.8" stroke="#2a2a2a" stroke-width="0.7" fill="none"/>
<rect x="366.85" y="243.59" width="2.35" height="51.81" fill="#86ccf4" stroke="#203a55" stroke-width="0.7"/>
<path d="M375.93 224.45V223.79M375.03 223.79h1.8" stroke="#2a2a2a" stroke-width="0.7" fill="none"/>
<rect x="374.75" y="224.45" width="2.35" height="70.95" fill="#fa900e" stroke="#5e3206" stroke-width="0.7"/>
<path d="M380.33 214.22V212.90M379.43 212.90h1.8" stroke="#2a2a2a" stroke-width="0.7" fill="none"/>
<rect x="379.15" y="214.22" width="2.35" height="81.18" fill="#86ccf4" stroke="#203a55" stroke-width="0.7"/>
<path d="M388.23 255.14V254.64M387.33 254.64h1.8" stroke="#2a2a2a" stroke-width="0.7" fill="none"/>
<rect x="387.05" y="255.14" width="2.35" height="40.26" fill="#fa900e" stroke="#5e3206" stroke-width="0.7"/>
<path d="M392.63 243.92V243.26M391.73 243.26h1.8" stroke="#2a2a2a" stroke-width="0.7" fill="none"/>
<rect x="391.45" y="243.92" width="2.35" height="51.48" fill="#86ccf4" stroke="#203a55" stroke-width="0.7"/>
<path d="M400.53 258.11V257.78M399.63 257.78h1.8" stroke="#2a2a2a" stroke-width="0.7" fill="none"/>
<rect x="399.35" y="258.11" width="2.35" height="37.29" fill="#fa900e" stroke="#5e3206" stroke-width="0.7"/>
<path d="M404.93 247.55V247.05M404.03 247.05h1.8" stroke="#2a2a2a" stroke-width="0.7" fill="none"/>
<rect x="403.75" y="247.55" width="2.35" height="47.85" fill="#86ccf4" stroke="#203a55" stroke-width="0.7"/>
<path d="M412.83 255.47V254.97M411.93 254.97h1.8" stroke="#2a2a2a" stroke-width="0.7" fill="none"/>
<rect x="411.65" y="255.47" width="2.35" height="39.93" fill="#fa900e" stroke="#5e3206" stroke-width="0.7"/>
<path d="M417.23 243.92V243.42M416.33 243.42h1.8" stroke="#2a2a2a" stroke-width="0.7" fill="none"/>
<rect x="416.05" y="243.92" width="2.35" height="51.48" fill="#86ccf4" stroke="#203a55" stroke-width="0.7"/>
<path d="M425.12 238.31V237.65M424.23 237.65h1.8" stroke="#2a2a2a" stroke-width="0.7" fill="none"/>
<rect x="423.95" y="238.31" width="2.35" height="57.09" fill="#fa900e" stroke="#5e3206" stroke-width="0.7"/>
<path d="M429.53 227.09V226.10M428.63 226.10h1.8" stroke="#2a2a2a" stroke-width="0.7" fill="none"/>
<rect x="428.35" y="227.09" width="2.35" height="68.31" fill="#86ccf4" stroke="#203a55" stroke-width="0.7"/>
<path d="M437.43 238.97V238.47M436.53 238.47h1.8" stroke="#2a2a2a" stroke-width="0.7" fill="none"/>
<rect x="436.25" y="238.97" width="2.35" height="56.43" fill="#fa900e" stroke="#5e3206" stroke-width="0.7"/>
<path d="M441.83 225.77V224.45M440.93 224.45h1.8" stroke="#2a2a2a" stroke-width="0.7" fill="none"/>
<rect x="440.65" y="225.77" width="2.35" height="69.63" fill="#86ccf4" stroke="#203a55" stroke-width="0.7"/>
<path d="M449.73 253.49V252.99M448.83 252.99h1.8" stroke="#2a2a2a" stroke-width="0.7" fill="none"/>
<rect x="448.55" y="253.49" width="2.35" height="41.91" fill="#fa900e" stroke="#5e3206" stroke-width="0.7"/>
<path d="M454.13 241.94V241.28M453.23 241.28h1.8" stroke="#2a2a2a" stroke-width="0.7" fill="none"/>
<rect x="452.95" y="241.94" width="2.35" height="53.46" fill="#86ccf4" stroke="#203a55" stroke-width="0.7"/>
<path d="M462.03 257.45V256.95M461.13 256.95h1.8" stroke="#2a2a2a" stroke-width="0.7" fill="none"/>
<rect x="460.85" y="257.45" width="2.35" height="37.95" fill="#fa900e" stroke="#5e3206" stroke-width="0.7"/>
<path d="M466.43 246.56V246.06M465.53 246.06h1.8" stroke="#2a2a2a" stroke-width="0.7" fill="none"/>
<rect x="465.25" y="246.56" width="2.35" height="48.84" fill="#86ccf4" stroke="#203a55" stroke-width="0.7"/>
<path d="M474.33 261.08V260.58M473.43 260.58h1.8" stroke="#2a2a2a" stroke-width="0.7" fill="none"/>
<rect x="473.15" y="261.08" width="2.35" height="34.32" fill="#fa900e" stroke="#5e3206" stroke-width="0.7"/>
<path d="M478.73 250.52V249.86M477.83 249.86h1.8" stroke="#2a2a2a" stroke-width="0.7" fill="none"/>
<rect x="477.55" y="250.52" width="2.35" height="44.88" fill="#86ccf4" stroke="#203a55" stroke-width="0.7"/>
<path d="M486.62 259.43V258.94M485.73 258.94h1.8" stroke="#2a2a2a" stroke-width="0.7" fill="none"/>
<rect x="485.45" y="259.43" width="2.35" height="35.97" fill="#fa900e" stroke="#5e3206" stroke-width="0.7"/>
<path d="M491.03 247.88V247.22M490.13 247.22h1.8" stroke="#2a2a2a" stroke-width="0.7" fill="none"/>
<rect x="489.85" y="247.88" width="2.35" height="47.52" fill="#86ccf4" stroke="#203a55" stroke-width="0.7"/>
<path d="M498.93 248.87V248.37M498.03 248.37h1.8" stroke="#2a2a2a" stroke-width="0.7" fill="none"/>
<rect x="497.75" y="248.87" width="2.35" height="46.53" fill="#fa900e" stroke="#5e3206" stroke-width="0.7"/>
<path d="M503.33 237.32V236.66M502.43 236.66h1.8" stroke="#2a2a2a" stroke-width="0.7" fill="none"/>
<rect x="502.15" y="237.32" width="2.35" height="58.08" fill="#86ccf4" stroke="#203a55" stroke-width="0.7"/>
<path d="M511.23 245.57V245.07M510.33 245.07h1.8" stroke="#2a2a2a" stroke-width="0.7" fill="none"/>
<rect x="510.05" y="245.57" width="2.35" height="49.83" fill="#fa900e" stroke="#5e3206" stroke-width="0.7"/>
<path d="M515.62 234.68V234.02M514.73 234.02h1.8" stroke="#2a2a2a" stroke-width="0.7" fill="none"/>
<rect x="514.45" y="234.68" width="2.35" height="60.72" fill="#86ccf4" stroke="#203a55" stroke-width="0.7"/>
<path d="M523.53 260.75V260.25M522.63 260.25h1.8" stroke="#2a2a2a" stroke-width="0.7" fill="none"/>
<rect x="522.35" y="260.75" width="2.35" height="34.65" fill="#fa900e" stroke="#5e3206" stroke-width="0.7"/>
<path d="M527.93 249.86V249.20M527.03 249.20h1.8" stroke="#2a2a2a" stroke-width="0.7" fill="none"/>
<rect x="526.75" y="249.86" width="2.35" height="45.54" fill="#86ccf4" stroke="#203a55" stroke-width="0.7"/>
<path d="M535.83 263.72V263.39M534.93 263.39h1.8" stroke="#2a2a2a" stroke-width="0.7" fill="none"/>
<rect x="534.65" y="263.72" width="2.35" height="31.68" fill="#fa900e" stroke="#5e3206" stroke-width="0.7"/>
<path d="M540.23 252.50V252.00M539.33 252.00h1.8" stroke="#2a2a2a" stroke-width="0.7" fill="none"/>
<rect x="539.05" y="252.50" width="2.35" height="42.90" fill="#86ccf4" stroke="#203a55" stroke-width="0.7"/>
<path d="M53.2 196.40V295.4H543.5" stroke="#111" stroke-width="1" fill="none"/>
<line x1="50.2" y1="295.40" x2="53.2" y2="295.40" stroke="#111" stroke-width="0.9"/>
<text x="48.900000000000006" y="297.20" font-size="5" text-anchor="end">10</text>
<line x1="50.2" y1="262.40" x2="53.2" y2="262.40" stroke="#111" stroke-width="0.9"/>
<text x="48.900000000000006" y="264.20" font-size="5" text-anchor="end">20</text>
<line x1="50.2" y1="229.40" x2="53.2" y2="229.40" stroke="#111" stroke-width="0.9"/>
<text x="48.900000000000006" y="231.20" font-size="5" text-anchor="end">30</text>
<line x1="50.2" y1="196.40" x2="53.2" y2="196.40" stroke="#111" stroke-width="0.9"/>
<text x="48.900000000000006" y="198.20" font-size="5" text-anchor="end">40</text>
<line x1="58.25" y1="295.4" x2="58.25" y2="298.59999999999997" stroke="#111" stroke-width="0.9"/>
<text transform="translate(58.65 304.0) rotate(-45)" font-size="5.8" text-anchor="end">BAP1</text>
<line x1="70.55" y1="295.4" x2="70.55" y2="298.59999999999997" stroke="#111" stroke-width="0.9"/>
<text transform="translate(70.95 304.0) rotate(-45)" font-size="5.8" text-anchor="end">BMP6</text>
<line x1="82.85" y1="295.4" x2="82.85" y2="298.59999999999997" stroke="#111" stroke-width="0.9"/>
<text transform="translate(83.25 304.0) rotate(-45)" font-size="5.8" text-anchor="end">CCNE1</text>
<line x1="95.15" y1="295.4" x2="95.15" y2="298.59999999999997" stroke="#111" stroke-width="0.9"/>
<text transform="translate(95.55 304.0) rotate(-45)" font-size="5.8" text-anchor="end">CDH1</text>
<line x1="107.45" y1="295.4" x2="107.45" y2="298.59999999999997" stroke="#111" stroke-width="0.9"/>
<text transform="translate(107.85 304.0) rotate(-45)" font-size="5.8" text-anchor="end">CDH2</text>
<line x1="119.75" y1="295.4" x2="119.75" y2="298.59999999999997" stroke="#111" stroke-width="0.9"/>
<text transform="translate(120.15 304.0) rotate(-45)" font-size="5.8" text-anchor="end">CTNNB1</text>
<line x1="132.05" y1="295.4" x2="132.05" y2="298.59999999999997" stroke="#111" stroke-width="0.9"/>
<text transform="translate(132.45 304.0) rotate(-45)" font-size="5.8" text-anchor="end">CCND1</text>
<line x1="144.35" y1="295.4" x2="144.35" y2="298.59999999999997" stroke="#111" stroke-width="0.9"/>
<text transform="translate(144.75 304.0) rotate(-45)" font-size="5.8" text-anchor="end">DKK3</text>
<line x1="156.65" y1="295.4" x2="156.65" y2="298.59999999999997" stroke="#111" stroke-width="0.9"/>
<text transform="translate(157.05 304.0) rotate(-45)" font-size="5.8" text-anchor="end">ECT2</text>
<line x1="168.95" y1="295.4" x2="168.95" y2="298.59999999999997" stroke="#111" stroke-width="0.9"/>
<text transform="translate(169.35 304.0) rotate(-45)" font-size="5.8" text-anchor="end">EGFR</text>
<line x1="181.25" y1="295.4" x2="181.25" y2="298.59999999999997" stroke="#111" stroke-width="0.9"/>
<text transform="translate(181.65 304.0) rotate(-45)" font-size="5.8" text-anchor="end">EpCAM</text>
<line x1="193.55" y1="295.4" x2="193.55" y2="298.59999999999997" stroke="#111" stroke-width="0.9"/>
<text transform="translate(193.95 304.0) rotate(-45)" font-size="5.8" text-anchor="end">ERBB2</text>
<line x1="205.85" y1="295.4" x2="205.85" y2="298.59999999999997" stroke="#111" stroke-width="0.9"/>
<text transform="translate(206.25 304.0) rotate(-45)" font-size="5.8" text-anchor="end">FAT1</text>
<line x1="218.15" y1="295.4" x2="218.15" y2="298.59999999999997" stroke="#111" stroke-width="0.9"/>
<text transform="translate(218.55 304.0) rotate(-45)" font-size="5.8" text-anchor="end">FN1</text>
<line x1="230.45" y1="295.4" x2="230.45" y2="298.59999999999997" stroke="#111" stroke-width="0.9"/>
<text transform="translate(230.85 304.0) rotate(-45)" font-size="5.8" text-anchor="end">FSCN1</text>
<line x1="242.75" y1="295.4" x2="242.75" y2="298.59999999999997" stroke="#111" stroke-width="0.9"/>
<text transform="translate(243.15 304.0) rotate(-45)" font-size="5.8" text-anchor="end">FOXA1</text>
<line x1="255.05" y1="295.4" x2="255.05" y2="298.59999999999997" stroke="#111" stroke-width="0.9"/>
<text transform="translate(255.45 304.0) rotate(-45)" font-size="5.8" text-anchor="end">GATA4</text>
<line x1="267.35" y1="295.4" x2="267.35" y2="298.59999999999997" stroke="#111" stroke-width="0.9"/>
<text transform="translate(267.75 304.0) rotate(-45)" font-size="5.8" text-anchor="end">IL12B</text>
<line x1="279.65" y1="295.4" x2="279.65" y2="298.59999999999997" stroke="#111" stroke-width="0.9"/>
<text transform="translate(280.05 304.0) rotate(-45)" font-size="5.8" text-anchor="end">ITGA6</text>
<line x1="291.95" y1="295.4" x2="291.95" y2="298.59999999999997" stroke="#111" stroke-width="0.9"/>
<text transform="translate(292.35 304.0) rotate(-45)" font-size="5.8" text-anchor="end">KCNH2</text>
<line x1="304.25" y1="295.4" x2="304.25" y2="298.59999999999997" stroke="#111" stroke-width="0.9"/>
<text transform="translate(304.65 304.0) rotate(-45)" font-size="5.8" text-anchor="end">KRT5</text>
<line x1="316.55" y1="295.4" x2="316.55" y2="298.59999999999997" stroke="#111" stroke-width="0.9"/>
<text transform="translate(316.95 304.0) rotate(-45)" font-size="5.8" text-anchor="end">KRT8</text>
<line x1="328.85" y1="295.4" x2="328.85" y2="298.59999999999997" stroke="#111" stroke-width="0.9"/>
<text transform="translate(329.25 304.0) rotate(-45)" font-size="5.8" text-anchor="end">KRT18</text>
<line x1="341.15" y1="295.4" x2="341.15" y2="298.59999999999997" stroke="#111" stroke-width="0.9"/>
<text transform="translate(341.55 304.0) rotate(-45)" font-size="5.8" text-anchor="end">KRT19</text>
<line x1="353.45" y1="295.4" x2="353.45" y2="298.59999999999997" stroke="#111" stroke-width="0.9"/>
<text transform="translate(353.85 304.0) rotate(-45)" font-size="5.8" text-anchor="end">LEF1</text>
<line x1="365.75" y1="295.4" x2="365.75" y2="298.59999999999997" stroke="#111" stroke-width="0.9"/>
<text transform="translate(366.15 304.0) rotate(-45)" font-size="5.8" text-anchor="end">MET</text>
<line x1="378.05" y1="295.4" x2="378.05" y2="298.59999999999997" stroke="#111" stroke-width="0.9"/>
<text transform="translate(378.45 304.0) rotate(-45)" font-size="5.8" text-anchor="end">MMP3</text>
<line x1="390.35" y1="295.4" x2="390.35" y2="298.59999999999997" stroke="#111" stroke-width="0.9"/>
<text transform="translate(390.75 304.0) rotate(-45)" font-size="5.8" text-anchor="end">MUC1</text>
<line x1="402.65" y1="295.4" x2="402.65" y2="298.59999999999997" stroke="#111" stroke-width="0.9"/>
<text transform="translate(403.05 304.0) rotate(-45)" font-size="5.8" text-anchor="end">MYL9</text>
<line x1="414.95" y1="295.4" x2="414.95" y2="298.59999999999997" stroke="#111" stroke-width="0.9"/>
<text transform="translate(415.35 304.0) rotate(-45)" font-size="5.8" text-anchor="end">NETO2</text>
<line x1="427.25" y1="295.4" x2="427.25" y2="298.59999999999997" stroke="#111" stroke-width="0.9"/>
<text transform="translate(427.65 304.0) rotate(-45)" font-size="5.8" text-anchor="end">SERPINE1</text>
<line x1="439.55" y1="295.4" x2="439.55" y2="298.59999999999997" stroke="#111" stroke-width="0.9"/>
<text transform="translate(439.95 304.0) rotate(-45)" font-size="5.8" text-anchor="end">SNAI1</text>
<line x1="451.85" y1="295.4" x2="451.85" y2="298.59999999999997" stroke="#111" stroke-width="0.9"/>
<text transform="translate(452.25 304.0) rotate(-45)" font-size="5.8" text-anchor="end">SNAI2</text>
<line x1="464.15" y1="295.4" x2="464.15" y2="298.59999999999997" stroke="#111" stroke-width="0.9"/>
<text transform="translate(464.55 304.0) rotate(-45)" font-size="5.8" text-anchor="end">SOX2</text>
<line x1="476.45" y1="295.4" x2="476.45" y2="298.59999999999997" stroke="#111" stroke-width="0.9"/>
<text transform="translate(476.85 304.0) rotate(-45)" font-size="5.8" text-anchor="end">TFRC</text>
<line x1="488.75" y1="295.4" x2="488.75" y2="298.59999999999997" stroke="#111" stroke-width="0.9"/>
<text transform="translate(489.15 304.0) rotate(-45)" font-size="5.8" text-anchor="end">TGFB1</text>
<line x1="501.05" y1="295.4" x2="501.05" y2="298.59999999999997" stroke="#111" stroke-width="0.9"/>
<text transform="translate(501.45 304.0) rotate(-45)" font-size="5.8" text-anchor="end">TWIST1</text>
<line x1="513.35" y1="295.4" x2="513.35" y2="298.59999999999997" stroke="#111" stroke-width="0.9"/>
<text transform="translate(513.75 304.0) rotate(-45)" font-size="5.8" text-anchor="end">VEGFC</text>
<line x1="525.65" y1="295.4" x2="525.65" y2="298.59999999999997" stroke="#111" stroke-width="0.9"/>
<text transform="translate(526.05 304.0) rotate(-45)" font-size="5.8" text-anchor="end">VIM</text>
<line x1="537.95" y1="295.4" x2="537.95" y2="298.59999999999997" stroke="#111" stroke-width="0.9"/>
<text transform="translate(538.35 304.0) rotate(-45)" font-size="5.8" text-anchor="end">XPO1</text>
<rect x="496.9" y="22.6" width="7.6" height="4" fill="#86ccf4" stroke="#203a55" stroke-width="0.9"/>
<text x="508.3" y="26.6" font-size="5.3">5000 PBMCs</text>
<rect x="496.9" y="32.6" width="7.6" height="4" fill="#fa900e" stroke="#5e3206" stroke-width="0.9"/>
<text x="509" y="36.5" font-size="5.3">50,000 PBMCs</text>
<rect x="476.3" y="193.2" width="7" height="3.8" fill="#86ccf4" stroke="#203a55" stroke-width="0.9"/>
<text x="487.4" y="197" font-size="5.3">5000 KYSE270 cells</text>
<rect x="476.3" y="203.6" width="7" height="3.8" fill="#fa900e" stroke="#5e3206" stroke-width="0.9"/>
<text x="488" y="207.4" font-size="5.3">50,000 KYSE270 cells</text>
</g>
<g id="panelB">
<defs><linearGradient id="cbg" x1="0" y1="0" x2="0" y2="1"><stop offset="0" stop-color="#dd1c1e"/><stop offset="1" stop-color="#583c1c"/></linearGradient></defs>
<text x="3" y="349.4" font-size="11.9" stroke-width="0.5">B</text>
<text x="18.7" y="360.2" font-size="10">(i)</text>
<text x="272.8" y="360.2" font-size="10">(ii)</text>
<text x="130" y="382" font-size="7.2" text-anchor="middle">KYSE30</text>
<text x="401" y="382" font-size="7.4" text-anchor="middle">KYSE270</text>
<rect x="59.00" y="388.70" width="28.61" height="7.33" fill="#189858"/>
<rect x="87.56" y="388.70" width="28.61" height="7.33" fill="#189858"/>
<rect x="116.12" y="388.70" width="28.61" height="7.33" fill="#189858"/>
<rect x="144.68" y="388.70" width="28.61" height="7.33" fill="#189858"/>
<rect x="173.24" y="388.70" width="28.61" height="7.33" fill="#189858"/>
<rect x="59.00" y="395.98" width="28.61" height="7.33" fill="#db1c1e"/>
<rect x="87.56" y="395.98" width="28.61" height="7.33" fill="#db1c1e"/>
<rect x="116.12" y="395.98" width="28.61" height="7.33" fill="#db1c1e"/>
<rect x="144.68" y="395.98" width="28.61" height="7.33" fill="#74361c"/>
<rect x="173.24" y="395.98" width="28.61" height="7.33" fill="#189858"/>
<rect x="59.00" y="403.26" width="28.61" height="7.33" fill="#189858"/>
<rect x="87.56" y="403.26" width="28.61" height="7.33" fill="#189858"/>
<rect x="116.12" y="403.26" width="28.61" height="7.33" fill="#189858"/>
<rect x="144.68" y="403.26" width="28.61" height="7.33" fill="#189858"/>
<rect x="173.24" y="403.26" width="28.61" height="7.33" fill="#189858"/>
<rect x="59.00" y="410.54" width="28.61" height="7.33" fill="#db1c1e"/>
<rect x="87.56" y="410.54" width="28.61" height="7.33" fill="#9d2c1d"/>
<rect x="116.12" y="410.54" width="28.61" height="7.33" fill="#623b1c"/>
<rect x="144.68" y="410.54" width="28.61" height="7.33" fill="#189858"/>
<rect x="173.24" y="410.54" width="28.61" height="7.33" fill="#189858"/>
<rect x="59.00" y="417.82" width="28.61" height="7.33" fill="#db1c1e"/>
<rect x="87.56" y="417.82" width="28.61" height="7.33" fill="#db1c1e"/>
<rect x="116.12" y="417.82" width="28.61" height="7.33" fill="#db1c1e"/>
<rect x="144.68" y="417.82" width="28.61" height="7.33" fill="#7a341d"/>
<rect x="173.24" y="417.82" width="28.61" height="7.33" fill="#5d3c1c"/>
<rect x="59.00" y="425.10" width="28.61" height="7.33" fill="#7a341d"/>
<rect x="87.56" y="425.10" width="28.61" height="7.33" fill="#74361c"/>
<rect x="116.12" y="425.10" width="28.61" height="7.33" fill="#623b1c"/>
<rect x="144.68" y="425.10" width="28.61" height="7.33" fill="#189858"/>
<rect x="173.24" y="425.10" width="28.61" height="7.33" fill="#189858"/>
<rect x="59.00" y="432.38" width="28.61" height="7.33" fill="#db1c1e"/>
<rect x="87.56" y="432.38" width="28.61" height="7.33" fill="#db1c1e"/>
<rect x="116.12" y="432.38" width="28.61" height="7.33" fill="#68391c"/>
<rect x="144.68" y="432.38" width="28.61" height="7.33" fill="#5d3c1c"/>
<rect x="173.24" y="432.38" width="28.61" height="7.33" fill="#189858"/>
<rect x="59.00" y="439.66" width="28.61" height="7.33" fill="#a52a1d"/>
<rect x="87.56" y="439.66" width="28.61" height="7.33" fill="#7a341d"/>
<rect x="116.12" y="439.66" width="28.61" height="7.33" fill="#189858"/>
<rect x="144.68" y="439.66" width="28.61" height="7.33" fill="#189858"/>
<rect x="173.24" y="439.66" width="28.61" height="7.33" fill="#189858"/>
<rect x="59.00" y="446.94" width="28.61" height="7.33" fill="#7a341d"/>
<rect x="87.56" y="446.94" width="28.61" height="7.33" fill="#74361c"/>
<rect x="116.12" y="446.94" width="28.61" height="7.33" fill="#623b1c"/>
<rect x="144.68" y="446.94" width="28.61" height="7.33" fill="#68391c"/>
<rect x="173.24" y="446.94" width="28.61" height="7.33" fill="#189858"/>
<rect x="59.00" y="454.22" width="28.61" height="7.33" fill="#db1c1e"/>
<rect x="87.56" y="454.22" width="28.61" height="7.33" fill="#88311d"/>
<rect x="116.12" y="454.22" width="28.61" height="7.33" fill="#623b1c"/>
<rect x="144.68" y="454.22" width="28.61" height="7.33" fill="#189858"/>
<rect x="173.24" y="454.22" width="28.61" height="7.33" fill="#189858"/>
<rect x="59.00" y="461.50" width="28.61" height="7.33" fill="#189858"/>
<rect x="87.56" y="461.50" width="28.61" height="7.33" fill="#189858"/>
<rect x="116.12" y="461.50" width="28.61" height="7.33" fill="#189858"/>
<rect x="144.68" y="461.50" width="28.61" height="7.33" fill="#189858"/>
<rect x="173.24" y="461.50" width="28.61" height="7.33" fill="#189858"/>
<rect x="59.00" y="468.78" width="28.61" height="7.33" fill="#623b1c"/>
<rect x="87.56" y="468.78" width="28.61" height="7.33" fill="#189858"/>
<rect x="116.12" y="468.78" width="28.61" height="7.33" fill="#189858"/>
<rect x="144.68" y="468.78" width="28.61" height="7.33" fill="#189858"/>
<rect x="173.24" y="468.78" width="28.61" height="7.33" fill="#189858"/>
<rect x="59.00" y="476.06" width="28.61" height="7.33" fill="#db1c1e"/>
<rect x="87.56" y="476.06" width="28.61" height="7.33" fill="#db1c1e"/>
<rect x="116.12" y="476.06" width="28.61" height="7.33" fill="#db1c1e"/>
<rect x="144.68" y="476.06" width="28.61" height="7.33" fill="#9d2c1d"/>
<rect x="173.24" y="476.06" width="28.61" height="7.33" fill="#5d3c1c"/>
<rect x="59.00" y="483.34" width="28.61" height="7.33" fill="#db1c1e"/>
<rect x="87.56" y="483.34" width="28.61" height="7.33" fill="#db1c1e"/>
<rect x="116.12" y="483.34" width="28.61" height="7.33" fill="#db1c1e"/>
<rect x="144.68" y="483.34" width="28.61" height="7.33" fill="#db1c1e"/>
<rect x="173.24" y="483.34" width="28.61" height="7.33" fill="#db1c1e"/>
<rect x="59.00" y="490.62" width="28.61" height="7.33" fill="#db1c1e"/>
<rect x="87.56" y="490.62" width="28.61" height="7.33" fill="#db1c1e"/>
<rect x="116.12" y="490.62" width="28.61" height="7.33" fill="#db1c1e"/>
<rect x="144.68" y="490.62" width="28.61" height="7.33" fill="#db1c1e"/>
<rect x="173.24" y="490.62" width="28.61" height="7.33" fill="#cb201e"/>
<rect x="59.00" y="497.90" width="28.61" height="7.33" fill="#db1c1e"/>
<rect x="87.56" y="497.90" width="28.61" height="7.33" fill="#db1c1e"/>
<rect x="116.12" y="497.90" width="28.61" height="7.33" fill="#c3221e"/>
<rect x="144.68" y="497.90" width="28.61" height="7.33" fill="#bb241e"/>
<rect x="173.24" y="497.90" width="28.61" height="7.33" fill="#9d2c1d"/>
<rect x="59.00" y="505.18" width="28.61" height="7.33" fill="#db1c1e"/>
<rect x="87.56" y="505.18" width="28.61" height="7.33" fill="#db1c1e"/>
<rect x="116.12" y="505.18" width="28.61" height="7.33" fill="#db1c1e"/>
<rect x="144.68" y="505.18" width="28.61" height="7.33" fill="#c3221e"/>
<rect x="173.24" y="505.18" width="28.61" height="7.33" fill="#623b1c"/>
<rect x="59.00" y="512.46" width="28.61" height="7.33" fill="#6e381c"/>
<rect x="87.56" y="512.46" width="28.61" height="7.33" fill="#623b1c"/>
<rect x="116.12" y="512.46" width="28.61" height="7.33" fill="#583d1c"/>
<rect x="144.68" y="512.46" width="28.61" height="7.33" fill="#189858"/>
<rect x="173.24" y="512.46" width="28.61" height="7.33" fill="#189858"/>
<rect x="59.00" y="519.74" width="28.61" height="7.33" fill="#81331d"/>
<rect x="87.56" y="519.74" width="28.61" height="7.33" fill="#6e381c"/>
<rect x="116.12" y="519.74" width="28.61" height="7.33" fill="#5d3c1c"/>
<rect x="144.68" y="519.74" width="28.61" height="7.33" fill="#583d1c"/>
<rect x="173.24" y="519.74" width="28.61" height="7.33" fill="#189858"/>
<rect x="59.00" y="527.02" width="28.61" height="7.33" fill="#db1c1e"/>
<rect x="87.56" y="527.02" width="28.61" height="7.33" fill="#c3221e"/>
<rect x="116.12" y="527.02" width="28.61" height="7.33" fill="#623b1c"/>
<rect x="144.68" y="527.02" width="28.61" height="7.33" fill="#583d1c"/>
<rect x="173.24" y="527.02" width="28.61" height="7.33" fill="#189858"/>
<path d="M59.00 388.70h142.80M59.00 395.98h142.80M59.00 403.26h142.80M59.00 410.54h142.80M59.00 417.82h142.80M59.00 425.10h142.80M59.00 432.38h142.80M59.00 439.66h142.80M59.00 446.94h142.80M59.00 454.22h142.80M59.00 461.50h142.80M59.00 468.78h142.80M59.00 476.06h142.80M59.00 483.34h142.80M59.00 490.62h142.80M59.00 497.90h142.80M59.00 505.18h142.80M59.00 512.46h142.80M59.00 519.74h142.80M59.00 527.02h142.80M59.00 534.30h142.80" stroke="#1c0a04" stroke-width="0.6" fill="none"/>
<path d="M59.00 388.70v145.60M87.56 388.70v145.60M116.12 388.70v145.60M144.68 388.70v145.60M173.24 388.70v145.60M201.80 388.70v145.60" stroke="#140a04" stroke-width="0.9" fill="none"/>
<text x="203.5" y="394.34" font-size="5.7">CCNE1</text>
<text x="203.5" y="401.62" font-size="5.7">CDH1</text>
<text x="203.5" y="408.90" font-size="5.7">CDH2</text>
<text x="203.5" y="416.18" font-size="5.7">CCND1</text>
<text x="203.5" y="423.46" font-size="5.7">ECT2</text>
<text x="203.5" y="430.74" font-size="5.7">EpCAM</text>
<text x="203.5" y="438.02" font-size="5.7">FAT1</text>
<text x="203.5" y="445.30" font-size="5.7">FN1</text>
<text x="203.5" y="452.58" font-size="5.7">FSCN1</text>
<text x="203.5" y="459.86" font-size="5.7">GATA4</text>
<text x="203.5" y="467.14" font-size="5.7">IL12B</text>
<text x="203.5" y="474.42" font-size="5.7">KRT5</text>
<text x="203.5" y="481.70" font-size="5.7">KRT18</text>
<text x="203.5" y="488.98" font-size="5.7">KRT19</text>
<text x="203.5" y="496.26" font-size="5.7">MET</text>
<text x="203.5" y="503.54" font-size="5.7">MUC1</text>
<text x="203.5" y="510.82" font-size="5.7">SNAI2</text>
<text x="203.5" y="518.10" font-size="5.7">TFRC</text>
<text x="203.5" y="525.38" font-size="5.7">TWIST1</text>
<text x="203.5" y="532.66" font-size="5.7">VEGFC</text>
<rect x="237.2" y="387.8" width="7.8" height="41.36" fill="url(#cbg)"/>
<rect x="237.2" y="429.16" width="7.8" height="10.34" fill="#189858"/>
<text x="248.1" y="389.35" font-size="4.3">10</text>
<text x="248.1" y="399.69" font-size="4.3">8</text>
<text x="248.1" y="410.03" font-size="4.3">6</text>
<text x="248.1" y="420.37" font-size="4.3">4</text>
<text x="248.1" y="430.71" font-size="4.3">2</text>
<text x="248.1" y="441.05" font-size="4.3">0</text>
<text x="58.4" y="541.6" font-size="5.4" text-anchor="end">KYSE30</text>
<text x="58.4" y="550.1" font-size="5.4" text-anchor="end">50,000 PBMCs</text>
<text x="73.78" y="541.7" font-size="6" text-anchor="middle">500</text>
<text x="75.48" y="550.4" font-size="4.6" text-anchor="middle">+</text>
<text x="102.34" y="541.7" font-size="6" text-anchor="middle">250</text>
<text x="104.04" y="550.4" font-size="4.6" text-anchor="middle">+</text>
<text x="130.90" y="541.7" font-size="6" text-anchor="middle">50</text>
<text x="132.60" y="550.4" font-size="4.6" text-anchor="middle">+</text>
<text x="159.46" y="541.7" font-size="6" text-anchor="middle">25</text>
<text x="161.16" y="550.4" font-size="4.6" text-anchor="middle">+</text>
<text x="188.02" y="541.7" font-size="6" text-anchor="middle">5</text>
<text x="189.72" y="550.4" font-size="4.6" text-anchor="middle">+</text>
<rect x="330.20" y="389.40" width="28.39" height="7.30" fill="#81331d"/>
<rect x="358.54" y="389.40" width="28.39" height="7.30" fill="#7a341d"/>
<rect x="386.88" y="389.40" width="28.39" height="7.30" fill="#5d3c1c"/>
<rect x="415.22" y="389.40" width="28.39" height="7.30" fill="#189858"/>
<rect x="443.56" y="389.40" width="28.39" height="7.30" fill="#189858"/>
<rect x="330.20" y="396.65" width="28.39" height="7.30" fill="#db1c1e"/>
<rect x="358.54" y="396.65" width="28.39" height="7.30" fill="#db1c1e"/>
<rect x="386.88" y="396.65" width="28.39" height="7.30" fill="#db1c1e"/>
<rect x="415.22" y="396.65" width="28.39" height="7.30" fill="#db1c1e"/>
<rect x="443.56" y="396.65" width="28.39" height="7.30" fill="#5d3c1c"/>
<rect x="330.20" y="403.90" width="28.39" height="7.30" fill="#81331d"/>
<rect x="358.54" y="403.90" width="28.39" height="7.30" fill="#68391c"/>
<rect x="386.88" y="403.90" width="28.39" height="7.30" fill="#189858"/>
<rect x="415.22" y="403.90" width="28.39" height="7.30" fill="#189858"/>
<rect x="443.56" y="403.90" width="28.39" height="7.30" fill="#189858"/>
<rect x="330.20" y="411.15" width="28.39" height="7.30" fill="#db1c1e"/>
<rect x="358.54" y="411.15" width="28.39" height="7.30" fill="#db1c1e"/>
<rect x="386.88" y="411.15" width="28.39" height="7.30" fill="#9d2c1d"/>
<rect x="415.22" y="411.15" width="28.39" height="7.30" fill="#81331d"/>
<rect x="443.56" y="411.15" width="28.39" height="7.30" fill="#5d3c1c"/>
<rect x="330.20" y="418.40" width="28.39" height="7.30" fill="#db1c1e"/>
<rect x="358.54" y="418.40" width="28.39" height="7.30" fill="#db1c1e"/>
<rect x="386.88" y="418.40" width="28.39" height="7.30" fill="#db1c1e"/>
<rect x="415.22" y="418.40" width="28.39" height="7.30" fill="#db1c1e"/>
<rect x="443.56" y="418.40" width="28.39" height="7.30" fill="#db1c1e"/>
<rect x="330.20" y="425.65" width="28.39" height="7.30" fill="#9d2c1d"/>
<rect x="358.54" y="425.65" width="28.39" height="7.30" fill="#962d1d"/>
<rect x="386.88" y="425.65" width="28.39" height="7.30" fill="#962d1d"/>
<rect x="415.22" y="425.65" width="28.39" height="7.30" fill="#68391c"/>
<rect x="443.56" y="425.65" width="28.39" height="7.30" fill="#583d1c"/>
<rect x="330.20" y="432.90" width="28.39" height="7.30" fill="#db1c1e"/>
<rect x="358.54" y="432.90" width="28.39" height="7.30" fill="#db1c1e"/>
<rect x="386.88" y="432.90" width="28.39" height="7.30" fill="#db1c1e"/>
<rect x="415.22" y="432.90" width="28.39" height="7.30" fill="#cb201e"/>
<rect x="443.56" y="432.90" width="28.39" height="7.30" fill="#68391c"/>
<rect x="330.20" y="440.15" width="28.39" height="7.30" fill="#db1c1e"/>
<rect x="358.54" y="440.15" width="28.39" height="7.30" fill="#db1c1e"/>
<rect x="386.88" y="440.15" width="28.39" height="7.30" fill="#db1c1e"/>
<rect x="415.22" y="440.15" width="28.39" height="7.30" fill="#68391c"/>
<rect x="443.56" y="440.15" width="28.39" height="7.30" fill="#189858"/>
<rect x="330.20" y="447.40" width="28.39" height="7.30" fill="#db1c1e"/>
<rect x="358.54" y="447.40" width="28.39" height="7.30" fill="#db1c1e"/>
<rect x="386.88" y="447.40" width="28.39" height="7.30" fill="#db1c1e"/>
<rect x="415.22" y="447.40" width="28.39" height="7.30" fill="#db1c1e"/>
<rect x="443.56" y="447.40" width="28.39" height="7.30" fill="#74361c"/>
<rect x="330.20" y="454.65" width="28.39" height="7.30" fill="#db1c1e"/>
<rect x="358.54" y="454.65" width="28.39" height="7.30" fill="#db1c1e"/>
<rect x="386.88" y="454.65" width="28.39" height="7.30" fill="#db1c1e"/>
<rect x="415.22" y="454.65" width="28.39" height="7.30" fill="#9d2c1d"/>
<rect x="443.56" y="454.65" width="28.39" height="7.30" fill="#623b1c"/>
<rect x="330.20" y="461.90" width="28.39" height="7.30" fill="#db1c1e"/>
<rect x="358.54" y="461.90" width="28.39" height="7.30" fill="#db1c1e"/>
<rect x="386.88" y="461.90" width="28.39" height="7.30" fill="#db1c1e"/>
<rect x="415.22" y="461.90" width="28.39" height="7.30" fill="#db1c1e"/>
<rect x="443.56" y="461.90" width="28.39" height="7.30" fill="#8f2f1d"/>
<rect x="330.20" y="469.15" width="28.39" height="7.30" fill="#db1c1e"/>
<rect x="358.54" y="469.15" width="28.39" height="7.30" fill="#db1c1e"/>
<rect x="386.88" y="469.15" width="28.39" height="7.30" fill="#db1c1e"/>
<rect x="415.22" y="469.15" width="28.39" height="7.30" fill="#db1c1e"/>
<rect x="443.56" y="469.15" width="28.39" height="7.30" fill="#623b1c"/>
<rect x="330.20" y="476.40" width="28.39" height="7.30" fill="#583d1c"/>
<rect x="358.54" y="476.40" width="28.39" height="7.30" fill="#189858"/>
<rect x="386.88" y="476.40" width="28.39" height="7.30" fill="#189858"/>
<rect x="415.22" y="476.40" width="28.39" height="7.30" fill="#189858"/>
<rect x="443.56" y="476.40" width="28.39" height="7.30" fill="#189858"/>
<rect x="330.20" y="483.65" width="28.39" height="7.30" fill="#db1c1e"/>
<rect x="358.54" y="483.65" width="28.39" height="7.30" fill="#db1c1e"/>
<rect x="386.88" y="483.65" width="28.39" height="7.30" fill="#db1c1e"/>
<rect x="415.22" y="483.65" width="28.39" height="7.30" fill="#db1c1e"/>
<rect x="443.56" y="483.65" width="28.39" height="7.30" fill="#623b1c"/>
<rect x="330.20" y="490.90" width="28.39" height="7.30" fill="#8f2f1d"/>
<rect x="358.54" y="490.90" width="28.39" height="7.30" fill="#88311d"/>
<rect x="386.88" y="490.90" width="28.39" height="7.30" fill="#623b1c"/>
<rect x="415.22" y="490.90" width="28.39" height="7.30" fill="#583d1c"/>
<rect x="443.56" y="490.90" width="28.39" height="7.30" fill="#189858"/>
<rect x="330.20" y="498.15" width="28.39" height="7.30" fill="#db1c1e"/>
<rect x="358.54" y="498.15" width="28.39" height="7.30" fill="#db1c1e"/>
<rect x="386.88" y="498.15" width="28.39" height="7.30" fill="#db1c1e"/>
<rect x="415.22" y="498.15" width="28.39" height="7.30" fill="#9d2c1d"/>
<rect x="443.56" y="498.15" width="28.39" height="7.30" fill="#623b1c"/>
<rect x="330.20" y="505.40" width="28.39" height="7.30" fill="#db1c1e"/>
<rect x="358.54" y="505.40" width="28.39" height="7.30" fill="#db1c1e"/>
<rect x="386.88" y="505.40" width="28.39" height="7.30" fill="#db1c1e"/>
<rect x="415.22" y="505.40" width="28.39" height="7.30" fill="#c3221e"/>
<rect x="443.56" y="505.40" width="28.39" height="7.30" fill="#623b1c"/>
<rect x="330.20" y="512.65" width="28.39" height="7.30" fill="#623b1c"/>
<rect x="358.54" y="512.65" width="28.39" height="7.30" fill="#5d3c1c"/>
<rect x="386.88" y="512.65" width="28.39" height="7.30" fill="#5d3c1c"/>
<rect x="415.22" y="512.65" width="28.39" height="7.30" fill="#189858"/>
<rect x="443.56" y="512.65" width="28.39" height="7.30" fill="#189858"/>
<rect x="330.20" y="519.90" width="28.39" height="7.30" fill="#db1c1e"/>
<rect x="358.54" y="519.90" width="28.39" height="7.30" fill="#9d2c1d"/>
<rect x="386.88" y="519.90" width="28.39" height="7.30" fill="#962d1d"/>
<rect x="415.22" y="519.90" width="28.39" height="7.30" fill="#5d3c1c"/>
<rect x="443.56" y="519.90" width="28.39" height="7.30" fill="#583d1c"/>
<rect x="330.20" y="527.15" width="28.39" height="7.30" fill="#db1c1e"/>
<rect x="358.54" y="527.15" width="28.39" height="7.30" fill="#db1c1e"/>
<rect x="386.88" y="527.15" width="28.39" height="7.30" fill="#c3221e"/>
<rect x="415.22" y="527.15" width="28.39" height="7.30" fill="#623b1c"/>
<rect x="443.56" y="527.15" width="28.39" height="7.30" fill="#5d3c1c"/>
<path d="M330.20 389.40h141.70M330.20 396.65h141.70M330.20 403.90h141.70M330.20 411.15h141.70M330.20 418.40h141.70M330.20 425.65h141.70M330.20 432.90h141.70M330.20 440.15h141.70M330.20 447.40h141.70M330.20 454.65h141.70M330.20 461.90h141.70M330.20 469.15h141.70M330.20 476.40h141.70M330.20 483.65h141.70M330.20 490.90h141.70M330.20 498.15h141.70M330.20 505.40h141.70M330.20 512.65h141.70M330.20 519.90h141.70M330.20 527.15h141.70M330.20 534.40h141.70" stroke="#1c0a04" stroke-width="0.6" fill="none"/>
<path d="M330.20 389.40v145.00M358.54 389.40v145.00M386.88 389.40v145.00M415.22 389.40v145.00M443.56 389.40v145.00M471.90 389.40v145.00" stroke="#140a04" stroke-width="0.9" fill="none"/>
<text x="474" y="394.92" font-size="5.3">CCNE1</text>
<text x="474" y="402.17" font-size="5.3">CDH1</text>
<text x="474" y="409.42" font-size="5.3">CDH2</text>
<text x="474" y="416.67" font-size="5.3">CCND1</text>
<text x="474" y="423.92" font-size="5.3">ECT2</text>
<text x="474" y="431.17" font-size="5.3">EpCAM</text>
<text x="474" y="438.42" font-size="5.3">FAT1</text>
<text x="474" y="445.67" font-size="5.3">FN1</text>
<text x="474" y="452.92" font-size="5.3">FSCN1</text>
<text x="474" y="460.17" font-size="5.3">GATA4</text>
<text x="474" y="467.42" font-size="5.3">IL12B</text>
<text x="474" y="474.67" font-size="5.3">KRT5</text>
<text x="474" y="481.92" font-size="5.3">KRT18</text>
<text x="474" y="489.17" font-size="5.3">KRT19</text>
<text x="474" y="496.42" font-size="5.3">MET</text>
<text x="474" y="503.67" font-size="5.3">MUC1</text>
<text x="474" y="510.92" font-size="5.3">SNAI2</text>
<text x="474" y="518.17" font-size="5.3">TFRC</text>
<text x="474" y="525.42" font-size="5.3">TWIST1</text>
<text x="474" y="532.67" font-size="5.3">VEGFC</text>
<rect x="506.3" y="390.3" width="8" height="41.28" fill="url(#cbg)"/>
<rect x="506.3" y="431.58" width="8" height="10.32" fill="#189858"/>
<text x="517.4" y="392.03" font-size="4.8">10</text>
<text x="517.4" y="402.35" font-size="4.8">8</text>
<text x="517.4" y="412.67" font-size="4.8">6</text>
<text x="517.4" y="422.99" font-size="4.8">4</text>
<text x="517.4" y="433.31" font-size="4.8">2</text>
<text x="517.4" y="443.63" font-size="4.8">0</text>
<text x="329.3" y="542" font-size="5.7" text-anchor="end">KYSE270</text>
<text x="329.3" y="550.5" font-size="5.65" text-anchor="end">50,000 PBMCs</text>
<text x="344.57" y="542" font-size="6" text-anchor="middle">500</text>
<text x="346.77" y="550.6" font-size="4.6" text-anchor="middle">+</text>
<text x="372.91" y="542" font-size="6" text-anchor="middle">250</text>
<text x="375.11" y="550.6" font-size="4.6" text-anchor="middle">+</text>
<text x="401.25" y="542" font-size="6" text-anchor="middle">50</text>
<text x="403.45" y="550.6" font-size="4.6" text-anchor="middle">+</text>
<text x="429.59" y="542" font-size="6" text-anchor="middle">25</text>
<text x="431.79" y="550.6" font-size="4.6" text-anchor="middle">+</text>
<text x="457.93" y="542" font-size="6" text-anchor="middle">5</text>
<text x="460.13" y="550.6" font-size="4.6" text-anchor="middle">+</text>
</g>
<g id="panelC">
<text x="3" y="584.3" font-size="11.9" stroke-width="0.5">C</text>
<rect x="23.7" y="598" width="14" height="5.6" fill="#ff0f0e" stroke="#111" stroke-width="0.8"/>
<rect x="23.7" y="606.8" width="14" height="5.6" fill="#084f29" stroke="#111" stroke-width="0.8"/>
<text x="41.3" y="603.9" font-size="6.3">Positive,&#160;&#160;&#8805; 2</text>
<text x="41.3" y="612.2" font-size="6.3">Negative, &lt; 2</text>
<rect x="23.6" y="618.2" width="215.32" height="164.64" fill="#06240f"/>
<rect x="23.60" y="618.20" width="15.38" height="7.84" fill="#ff0f0e" stroke="#05180a" stroke-width="0.55"/>
<rect x="38.98" y="618.20" width="15.38" height="7.84" fill="#ff0f0e" stroke="#05180a" stroke-width="0.55"/>
<rect x="54.36" y="618.20" width="15.38" height="7.84" fill="#ff0f0e" stroke="#05180a" stroke-width="0.55"/>
<rect x="69.74" y="618.20" width="15.38" height="7.84" fill="#ff0f0e" stroke="#05180a" stroke-width="0.55"/>
<rect x="85.12" y="618.20" width="15.38" height="7.84" fill="#ff0f0e" stroke="#05180a" stroke-width="0.55"/>
<rect x="100.50" y="618.20" width="15.38" height="7.84" fill="#084f29" stroke="#05180a" stroke-width="0.55"/>
<rect x="115.88" y="618.20" width="15.38" height="7.84" fill="#ff0f0e" stroke="#05180a" stroke-width="0.55"/>
<rect x="131.26" y="618.20" width="15.38" height="7.84" fill="#ff0f0e" stroke="#05180a" stroke-width="0.55"/>
<rect x="146.64" y="618.20" width="15.38" height="7.84" fill="#084f29" stroke="#05180a" stroke-width="0.55"/>
<rect x="162.02" y="618.20" width="15.38" height="7.84" fill="#ff0f0e" stroke="#05180a" stroke-width="0.55"/>
<rect x="177.40" y="618.20" width="15.38" height="7.84" fill="#ff0f0e" stroke="#05180a" stroke-width="0.55"/>
<rect x="192.78" y="618.20" width="15.38" height="7.84" fill="#ff0f0e" stroke="#05180a" stroke-width="0.55"/>
<rect x="208.16" y="618.20" width="15.38" height="7.84" fill="#ff0f0e" stroke="#05180a" stroke-width="0.55"/>
<rect x="223.54" y="618.20" width="15.38" height="7.84" fill="#084f29" stroke="#05180a" stroke-width="0.55"/>
<rect x="23.60" y="626.04" width="15.38" height="7.84" fill="#084f29" stroke="#05180a" stroke-width="0.55"/>
<rect x="38.98" y="626.04" width="15.38" height="7.84" fill="#084f29" stroke="#05180a" stroke-width="0.55"/>
<rect x="54.36" y="626.04" width="15.38" height="7.84" fill="#ff0f0e" stroke="#05180a" stroke-width="0.55"/>
<rect x="69.74" y="626.04" width="15.38" height="7.84" fill="#ff0f0e" stroke="#05180a" stroke-width="0.55"/>
<rect x="85.12" y="626.04" width="15.38" height="7.84" fill="#084f29" stroke="#05180a" stroke-width="0.55"/>
<rect x="100.50" y="626.04" width="15.38" height="7.84" fill="#ff0f0e" stroke="#05180a" stroke-width="0.55"/>
<rect x="115.88" y="626.04" width="15.38" height="7.84" fill="#084f29" stroke="#05180a" stroke-width="0.55"/>
<rect x="131.26" y="626.04" width="15.38" height="7.84" fill="#ff0f0e" stroke="#05180a" stroke-width="0.55"/>
<rect x="146.64" y="626.04" width="15.38" height="7.84" fill="#084f29" stroke="#05180a" stroke-width="0.55"/>
<rect x="162.02" y="626.04" width="15.38" height="7.84" fill="#ff0f0e" stroke="#05180a" stroke-width="0.55"/>
<rect x="177.40" y="626.04" width="15.38" height="7.84" fill="#ff0f0e" stroke="#05180a" stroke-width="0.55"/>
<rect x="192.78" y="626.04" width="15.38" height="7.84" fill="#ff0f0e" stroke="#05180a" stroke-width="0.55"/>
<rect x="208.16" y="626.04" width="15.38" height="7.84" fill="#ff0f0e" stroke="#05180a" stroke-width="0.55"/>
<rect x="223.54" y="626.04" width="15.38" height="7.84" fill="#ff0f0e" stroke="#05180a" stroke-width="0.55"/>
<rect x="23.60" y="633.88" width="15.38" height="7.84" fill="#ff0f0e" stroke="#05180a" stroke-width="0.55"/>
<rect x="38.98" y="633.88" width="15.38" height="7.84" fill="#084f29" stroke="#05180a" stroke-width="0.55"/>
<rect x="54.36" y="633.88" width="15.38" height="7.84" fill="#ff0f0e" stroke="#05180a" stroke-width="0.55"/>
<rect x="69.74" y="633.88" width="15.38" height="7.84" fill="#084f29" stroke="#05180a" stroke-width="0.55"/>
<rect x="85.12" y="633.88" width="15.38" height="7.84" fill="#ff0f0e" stroke="#05180a" stroke-width="0.55"/>
<rect x="100.50" y="633.88" width="15.38" height="7.84" fill="#084f29" stroke="#05180a" stroke-width="0.55"/>
<rect x="115.88" y="633.88" width="15.38" height="7.84" fill="#084f29" stroke="#05180a" stroke-width="0.55"/>
<rect x="131.26" y="633.88" width="15.38" height="7.84" fill="#ff0f0e" stroke="#05180a" stroke-width="0.55"/>
<rect x="146.64" y="633.88" width="15.38" height="7.84" fill="#ff0f0e" stroke="#05180a" stroke-width="0.55"/>
<rect x="162.02" y="633.88" width="15.38" height="7.84" fill="#ff0f0e" stroke="#05180a" stroke-width="0.55"/>
<rect x="177.40" y="633.88" width="15.38" height="7.84" fill="#ff0f0e" stroke="#05180a" stroke-width="0.55"/>
<rect x="192.78" y="633.88" width="15.38" height="7.84" fill="#084f29" stroke="#05180a" stroke-width="0.55"/>
<rect x="208.16" y="633.88" width="15.38" height="7.84" fill="#084f29" stroke="#05180a" stroke-width="0.55"/>
<rect x="223.54" y="633.88" width="15.38" height="7.84" fill="#ff0f0e" stroke="#05180a" stroke-width="0.55"/>
<rect x="23.60" y="641.72" width="15.38" height="7.84" fill="#ff0f0e" stroke="#05180a" stroke-width="0.55"/>
<rect x="38.98" y="641.72" width="15.38" height="7.84" fill="#084f29" stroke="#05180a" stroke-width="0.55"/>
<rect x="54.36" y="641.72" width="15.38" height="7.84" fill="#ff0f0e" stroke="#05180a" stroke-width="0.55"/>
<rect x="69.74" y="641.72" width="15.38" height="7.84" fill="#084f29" stroke="#05180a" stroke-width="0.55"/>
<rect x="85.12" y="641.72" width="15.38" height="7.84" fill="#084f29" stroke="#05180a" stroke-width="0.55"/>
<rect x="100.50" y="641.72" width="15.38" height="7.84" fill="#084f29" stroke="#05180a" stroke-width="0.55"/>
<rect x="115.88" y="641.72" width="15.38" height="7.84" fill="#ff0f0e" stroke="#05180a" stroke-width="0.55"/>
<rect x="131.26" y="641.72" width="15.38" height="7.84" fill="#ff0f0e" stroke="#05180a" stroke-width="0.55"/>
<rect x="146.64" y="641.72" width="15.38" height="7.84" fill="#084f29" stroke="#05180a" stroke-width="0.55"/>
<rect x="162.02" y="641.72" width="15.38" height="7.84" fill="#ff0f0e" stroke="#05180a" stroke-width="0.55"/>
<rect x="177.40" y="641.72" width="15.38" height="7.84" fill="#ff0f0e" stroke="#05180a" stroke-width="0.55"/>
<rect x="192.78" y="641.72" width="15.38" height="7.84" fill="#ff0f0e" stroke="#05180a" stroke-width="0.55"/>
<rect x="208.16" y="641.72" width="15.38" height="7.84" fill="#084f29" stroke="#05180a" stroke-width="0.55"/>
<rect x="223.54" y="641.72" width="15.38" height="7.84" fill="#084f29" stroke="#05180a" stroke-width="0.55"/>
<rect x="23.60" y="649.56" width="15.38" height="7.84" fill="#ff0f0e" stroke="#05180a" stroke-width="0.55"/>
<rect x="38.98" y="649.56" width="15.38" height="7.84" fill="#084f29" stroke="#05180a" stroke-width="0.55"/>
<rect x="54.36" y="649.56" width="15.38" height="7.84" fill="#ff0f0e" stroke="#05180a" stroke-width="0.55"/>
<rect x="69.74" y="649.56" width="15.38" height="7.84" fill="#ff0f0e" stroke="#05180a" stroke-width="0.55"/>
<rect x="85.12" y="649.56" width="15.38" height="7.84" fill="#084f29" stroke="#05180a" stroke-width="0.55"/>
<rect x="100.50" y="649.56" width="15.38" height="7.84" fill="#084f29" stroke="#05180a" stroke-width="0.55"/>
<rect x="115.88" y="649.56" width="15.38" height="7.84" fill="#ff0f0e" stroke="#05180a" stroke-width="0.55"/>
<rect x="131.26" y="649.56" width="15.38" height="7.84" fill="#ff0f0e" stroke="#05180a" stroke-width="0.55"/>
<rect x="146.64" y="649.56" width="15.38" height="7.84" fill="#084f29" stroke="#05180a" stroke-width="0.55"/>
<rect x="162.02" y="649.56" width="15.38" height="7.84" fill="#084f29" stroke="#05180a" stroke-width="0.55"/>
<rect x="177.40" y="649.56" width="15.38" height="7.84" fill="#ff0f0e" stroke="#05180a" stroke-width="0.55"/>
<rect x="192.78" y="649.56" width="15.38" height="7.84" fill="#ff0f0e" stroke="#05180a" stroke-width="0.55"/>
<rect x="208.16" y="649.56" width="15.38" height="7.84" fill="#ff0f0e" stroke="#05180a" stroke-width="0.55"/>
<rect x="223.54" y="649.56" width="15.38" height="7.84" fill="#084f29" stroke="#05180a" stroke-width="0.55"/>
<rect x="23.60" y="657.40" width="15.38" height="7.84" fill="#ff0f0e" stroke="#05180a" stroke-width="0.55"/>
<rect x="38.98" y="657.40" width="15.38" height="7.84" fill="#084f29" stroke="#05180a" stroke-width="0.55"/>
<rect x="54.36" y="657.40" width="15.38" height="7.84" fill="#ff0f0e" stroke="#05180a" stroke-width="0.55"/>
<rect x="69.74" y="657.40" width="15.38" height="7.84" fill="#ff0f0e" stroke="#05180a" stroke-width="0.55"/>
<rect x="85.12" y="657.40" width="15.38" height="7.84" fill="#ff0f0e" stroke="#05180a" stroke-width="0.55"/>
<rect x="100.50" y="657.40" width="15.38" height="7.84" fill="#084f29" stroke="#05180a" stroke-width="0.55"/>
<rect x="115.88" y="657.40" width="15.38" height="7.84" fill="#084f29" stroke="#05180a" stroke-width="0.55"/>
<rect x="131.26" y="657.40" width="15.38" height="7.84" fill="#ff0f0e" stroke="#05180a" stroke-width="0.55"/>
<rect x="146.64" y="657.40" width="15.38" height="7.84" fill="#084f29" stroke="#05180a" stroke-width="0.55"/>
<rect x="162.02" y="657.40" width="15.38" height="7.84" fill="#ff0f0e" stroke="#05180a" stroke-width="0.55"/>
<rect x="177.40" y="657.40" width="15.38" height="7.84" fill="#ff0f0e" stroke="#05180a" stroke-width="0.55"/>
<rect x="192.78" y="657.40" width="15.38" height="7.84" fill="#ff0f0e" stroke="#05180a" stroke-width="0.55"/>
<rect x="208.16" y="657.40" width="15.38" height="7.84" fill="#ff0f0e" stroke="#05180a" stroke-width="0.55"/>
<rect x="223.54" y="657.40" width="15.38" height="7.84" fill="#084f29" stroke="#05180a" stroke-width="0.55"/>
<rect x="23.60" y="665.24" width="15.38" height="7.84" fill="#ff0f0e" stroke="#05180a" stroke-width="0.55"/>
<rect x="38.98" y="665.24" width="15.38" height="7.84" fill="#084f29" stroke="#05180a" stroke-width="0.55"/>
<rect x="54.36" y="665.24" width="15.38" height="7.84" fill="#ff0f0e" stroke="#05180a" stroke-width="0.55"/>
<rect x="69.74" y="665.24" width="15.38" height="7.84" fill="#ff0f0e" stroke="#05180a" stroke-width="0.55"/>
<rect x="85.12" y="665.24" width="15.38" height="7.84" fill="#ff0f0e" stroke="#05180a" stroke-width="0.55"/>
<rect x="100.50" y="665.24" width="15.38" height="7.84" fill="#084f29" stroke="#05180a" stroke-width="0.55"/>
<rect x="115.88" y="665.24" width="15.38" height="7.84" fill="#084f29" stroke="#05180a" stroke-width="0.55"/>
<rect x="131.26" y="665.24" width="15.38" height="7.84" fill="#ff0f0e" stroke="#05180a" stroke-width="0.55"/>
<rect x="146.64" y="665.24" width="15.38" height="7.84" fill="#084f29" stroke="#05180a" stroke-width="0.55"/>
<rect x="162.02" y="665.24" width="15.38" height="7.84" fill="#084f29" stroke="#05180a" stroke-width="0.55"/>
<rect x="177.40" y="665.24" width="15.38" height="7.84" fill="#084f29" stroke="#05180a" stroke-width="0.55"/>
<rect x="192.78" y="665.24" width="15.38" height="7.84" fill="#ff0f0e" stroke="#05180a" stroke-width="0.55"/>
<rect x="208.16" y="665.24" width="15.38" height="7.84" fill="#ff0f0e" stroke="#05180a" stroke-width="0.55"/>
<rect x="223.54" y="665.24" width="15.38" height="7.84" fill="#084f29" stroke="#05180a" stroke-width="0.55"/>
<rect x="23.60" y="673.08" width="15.38" height="7.84" fill="#ff0f0e" stroke="#05180a" stroke-width="0.55"/>
<rect x="38.98" y="673.08" width="15.38" height="7.84" fill="#084f29" stroke="#05180a" stroke-width="0.55"/>
<rect x="54.36" y="673.08" width="15.38" height="7.84" fill="#ff0f0e" stroke="#05180a" stroke-width="0.55"/>
<rect x="69.74" y="673.08" width="15.38" height="7.84" fill="#084f29" stroke="#05180a" stroke-width="0.55"/>
<rect x="85.12" y="673.08" width="15.38" height="7.84" fill="#ff0f0e" stroke="#05180a" stroke-width="0.55"/>
<rect x="100.50" y="673.08" width="15.38" height="7.84" fill="#084f29" stroke="#05180a" stroke-width="0.55"/>
<rect x="115.88" y="673.08" width="15.38" height="7.84" fill="#084f29" stroke="#05180a" stroke-width="0.55"/>
<rect x="131.26" y="673.08" width="15.38" height="7.84" fill="#ff0f0e" stroke="#05180a" stroke-width="0.55"/>
<rect x="146.64" y="673.08" width="15.38" height="7.84" fill="#084f29" stroke="#05180a" stroke-width="0.55"/>
<rect x="162.02" y="673.08" width="15.38" height="7.84" fill="#084f29" stroke="#05180a" stroke-width="0.55"/>
<rect x="177.40" y="673.08" width="15.38" height="7.84" fill="#084f29" stroke="#05180a" stroke-width="0.55"/>
<rect x="192.78" y="673.08" width="15.38" height="7.84" fill="#084f29" stroke="#05180a" stroke-width="0.55"/>
<rect x="208.16" y="673.08" width="15.38" height="7.84" fill="#084f29" stroke="#05180a" stroke-width="0.55"/>
<rect x="223.54" y="673.08" width="15.38" height="7.84" fill="#084f29" stroke="#05180a" stroke-width="0.55"/>
<rect x="23.60" y="680.92" width="15.38" height="7.84" fill="#ff0f0e" stroke="#05180a" stroke-width="0.55"/>
<rect x="38.98" y="680.92" width="15.38" height="7.84" fill="#084f29" stroke="#05180a" stroke-width="0.55"/>
<rect x="54.36" y="680.92" width="15.38" height="7.84" fill="#ff0f0e" stroke="#05180a" stroke-width="0.55"/>
<rect x="69.74" y="680.92" width="15.38" height="7.84" fill="#084f29" stroke="#05180a" stroke-width="0.55"/>
<rect x="85.12" y="680.92" width="15.38" height="7.84" fill="#ff0f0e" stroke="#05180a" stroke-width="0.55"/>
<rect x="100.50" y="680.92" width="15.38" height="7.84" fill="#084f29" stroke="#05180a" stroke-width="0.55"/>
<rect x="115.88" y="680.92" width="15.38" height="7.84" fill="#084f29" stroke="#05180a" stroke-width="0.55"/>
<rect x="131.26" y="680.92" width="15.38" height="7.84" fill="#ff0f0e" stroke="#05180a" stroke-width="0.55"/>
<rect x="146.64" y="680.92" width="15.38" height="7.84" fill="#084f29" stroke="#05180a" stroke-width="0.55"/>
<rect x="162.02" y="680.92" width="15.38" height="7.84" fill="#ff0f0e" stroke="#05180a" stroke-width="0.55"/>
<rect x="177.40" y="680.92" width="15.38" height="7.84" fill="#ff0f0e" stroke="#05180a" stroke-width="0.55"/>
<rect x="192.78" y="680.92" width="15.38" height="7.84" fill="#084f29" stroke="#05180a" stroke-width="0.55"/>
<rect x="208.16" y="680.92" width="15.38" height="7.84" fill="#084f29" stroke="#05180a" stroke-width="0.55"/>
<rect x="223.54" y="680.92" width="15.38" height="7.84" fill="#ff0f0e" stroke="#05180a" stroke-width="0.55"/>
<rect x="23.60" y="688.76" width="15.38" height="7.84" fill="#ff0f0e" stroke="#05180a" stroke-width="0.55"/>
<rect x="38.98" y="688.76" width="15.38" height="7.84" fill="#084f29" stroke="#05180a" stroke-width="0.55"/>
<rect x="54.36" y="688.76" width="15.38" height="7.84" fill="#ff0f0e" stroke="#05180a" stroke-width="0.55"/>
<rect x="69.74" y="688.76" width="15.38" height="7.84" fill="#084f29" stroke="#05180a" stroke-width="0.55"/>
<rect x="85.12" y="688.76" width="15.38" height="7.84" fill="#ff0f0e" stroke="#05180a" stroke-width="0.55"/>
<rect x="100.50" y="688.76" width="15.38" height="7.84" fill="#084f29" stroke="#05180a" stroke-width="0.55"/>
<rect x="115.88" y="688.76" width="15.38" height="7.84" fill="#ff0f0e" stroke="#05180a" stroke-width="0.55"/>
<rect x="131.26" y="688.76" width="15.38" height="7.84" fill="#ff0f0e" stroke="#05180a" stroke-width="0.55"/>
<rect x="146.64" y="688.76" width="15.38" height="7.84" fill="#084f29" stroke="#05180a" stroke-width="0.55"/>
<rect x="162.02" y="688.76" width="15.38" height="7.84" fill="#084f29" stroke="#05180a" stroke-width="0.55"/>
<rect x="177.40" y="688.76" width="15.38" height="7.84" fill="#084f29" stroke="#05180a" stroke-width="0.55"/>
<rect x="192.78" y="688.76" width="15.38" height="7.84" fill="#084f29" stroke="#05180a" stroke-width="0.55"/>
<rect x="208.16" y="688.76" width="15.38" height="7.84" fill="#084f29" stroke="#05180a" stroke-width="0.55"/>
<rect x="223.54" y="688.76" width="15.38" height="7.84" fill="#084f29" stroke="#05180a" stroke-width="0.55"/>
<rect x="23.60" y="696.60" width="15.38" height="7.84" fill="#ff0f0e" stroke="#05180a" stroke-width="0.55"/>
<rect x="38.98" y="696.60" width="15.38" height="7.84" fill="#084f29" stroke="#05180a" stroke-width="0.55"/>
<rect x="54.36" y="696.60" width="15.38" height="7.84" fill="#ff0f0e" stroke="#05180a" stroke-width="0.55"/>
<rect x="69.74" y="696.60" width="15.38" height="7.84" fill="#084f29" stroke="#05180a" stroke-width="0.55"/>
<rect x="85.12" y="696.60" width="15.38" height="7.84" fill="#ff0f0e" stroke="#05180a" stroke-width="0.55"/>
<rect x="100.50" y="696.60" width="15.38" height="7.84" fill="#084f29" stroke="#05180a" stroke-width="0.55"/>
<rect x="115.88" y="696.60" width="15.38" height="7.84" fill="#084f29" stroke="#05180a" stroke-width="0.55"/>
<rect x="131.26" y="696.60" width="15.38" height="7.84" fill="#ff0f0e" stroke="#05180a" stroke-width="0.55"/>
<rect x="146.64" y="696.60" width="15.38" height="7.84" fill="#084f29" stroke="#05180a" stroke-width="0.55"/>
<rect x="162.02" y="696.60" width="15.38" height="7.84" fill="#084f29" stroke="#05180a" stroke-width="0.55"/>
<rect x="177.40" y="696.60" width="15.38" height="7.84" fill="#084f29" stroke="#05180a" stroke-width="0.55"/>
<rect x="192.78" y="696.60" width="15.38" height="7.84" fill="#084f29" stroke="#05180a" stroke-width="0.55"/>
<rect x="208.16" y="696.60" width="15.38" height="7.84" fill="#084f29" stroke="#05180a" stroke-width="0.55"/>
<rect x="223.54" y="696.60" width="15.38" height="7.84" fill="#084f29" stroke="#05180a" stroke-width="0.55"/>
<rect x="23.60" y="704.44" width="15.38" height="7.84" fill="#ff0f0e" stroke="#05180a" stroke-width="0.55"/>
<rect x="38.98" y="704.44" width="15.38" height="7.84" fill="#084f29" stroke="#05180a" stroke-width="0.55"/>
<rect x="54.36" y="704.44" width="15.38" height="7.84" fill="#ff0f0e" stroke="#05180a" stroke-width="0.55"/>
<rect x="69.74" y="704.44" width="15.38" height="7.84" fill="#084f29" stroke="#05180a" stroke-width="0.55"/>
<rect x="85.12" y="704.44" width="15.38" height="7.84" fill="#ff0f0e" stroke="#05180a" stroke-width="0.55"/>
<rect x="100.50" y="704.44" width="15.38" height="7.84" fill="#084f29" stroke="#05180a" stroke-width="0.55"/>
<rect x="115.88" y="704.44" width="15.38" height="7.84" fill="#084f29" stroke="#05180a" stroke-width="0.55"/>
<rect x="131.26" y="704.44" width="15.38" height="7.84" fill="#084f29" stroke="#05180a" stroke-width="0.55"/>
<rect x="146.64" y="704.44" width="15.38" height="7.84" fill="#084f29" stroke="#05180a" stroke-width="0.55"/>
<rect x="162.02" y="704.44" width="15.38" height="7.84" fill="#084f29" stroke="#05180a" stroke-width="0.55"/>
<rect x="177.40" y="704.44" width="15.38" height="7.84" fill="#084f29" stroke="#05180a" stroke-width="0.55"/>
<rect x="192.78" y="704.44" width="15.38" height="7.84" fill="#084f29" stroke="#05180a" stroke-width="0.55"/>
<rect x="208.16" y="704.44" width="15.38" height="7.84" fill="#084f29" stroke="#05180a" stroke-width="0.55"/>
<rect x="223.54" y="704.44" width="15.38" height="7.84" fill="#084f29" stroke="#05180a" stroke-width="0.55"/>
<rect x="23.60" y="712.28" width="15.38" height="7.84" fill="#084f29" stroke="#05180a" stroke-width="0.55"/>
<rect x="38.98" y="712.28" width="15.38" height="7.84" fill="#084f29" stroke="#05180a" stroke-width="0.55"/>
<rect x="54.36" y="712.28" width="15.38" height="7.84" fill="#ff0f0e" stroke="#05180a" stroke-width="0.55"/>
<rect x="69.74" y="712.28" width="15.38" height="7.84" fill="#084f29" stroke="#05180a" stroke-width="0.55"/>
<rect x="85.12" y="712.28" width="15.38" height="7.84" fill="#084f29" stroke="#05180a" stroke-width="0.55"/>
<rect x="100.50" y="712.28" width="15.38" height="7.84" fill="#084f29" stroke="#05180a" stroke-width="0.55"/>
<rect x="115.88" y="712.28" width="15.38" height="7.84" fill="#084f29" stroke="#05180a" stroke-width="0.55"/>
<rect x="131.26" y="712.28" width="15.38" height="7.84" fill="#ff0f0e" stroke="#05180a" stroke-width="0.55"/>
<rect x="146.64" y="712.28" width="15.38" height="7.84" fill="#084f29" stroke="#05180a" stroke-width="0.55"/>
<rect x="162.02" y="712.28" width="15.38" height="7.84" fill="#084f29" stroke="#05180a" stroke-width="0.55"/>
<rect x="177.40" y="712.28" width="15.38" height="7.84" fill="#084f29" stroke="#05180a" stroke-width="0.55"/>
<rect x="192.78" y="712.28" width="15.38" height="7.84" fill="#084f29" stroke="#05180a" stroke-width="0.55"/>
<rect x="208.16" y="712.28" width="15.38" height="7.84" fill="#084f29" stroke="#05180a" stroke-width="0.55"/>
<rect x="223.54" y="712.28" width="15.38" height="7.84" fill="#084f29" stroke="#05180a" stroke-width="0.55"/>
<rect x="23.60" y="720.12" width="15.38" height="7.84" fill="#084f29" stroke="#05180a" stroke-width="0.55"/>
<rect x="38.98" y="720.12" width="15.38" height="7.84" fill="#084f29" stroke="#05180a" stroke-width="0.55"/>
<rect x="54.36" y="720.12" width="15.38" height="7.84" fill="#084f29" stroke="#05180a" stroke-width="0.55"/>
<rect x="69.74" y="720.12" width="15.38" height="7.84" fill="#084f29" stroke="#05180a" stroke-width="0.55"/>
<rect x="85.12" y="720.12" width="15.38" height="7.84" fill="#084f29" stroke="#05180a" stroke-width="0.55"/>
<rect x="100.50" y="720.12" width="15.38" height="7.84" fill="#084f29" stroke="#05180a" stroke-width="0.55"/>
<rect x="115.88" y="720.12" width="15.38" height="7.84" fill="#084f29" stroke="#05180a" stroke-width="0.55"/>
<rect x="131.26" y="720.12" width="15.38" height="7.84" fill="#084f29" stroke="#05180a" stroke-width="0.55"/>
<rect x="146.64" y="720.12" width="15.38" height="7.84" fill="#084f29" stroke="#05180a" stroke-width="0.55"/>
<rect x="162.02" y="720.12" width="15.38" height="7.84" fill="#084f29" stroke="#05180a" stroke-width="0.55"/>
<rect x="177.40" y="720.12" width="15.38" height="7.84" fill="#084f29" stroke="#05180a" stroke-width="0.55"/>
<rect x="192.78" y="720.12" width="15.38" height="7.84" fill="#084f29" stroke="#05180a" stroke-width="0.55"/>
<rect x="208.16" y="720.12" width="15.38" height="7.84" fill="#084f29" stroke="#05180a" stroke-width="0.55"/>
<rect x="223.54" y="720.12" width="15.38" height="7.84" fill="#084f29" stroke="#05180a" stroke-width="0.55"/>
<rect x="23.60" y="727.96" width="15.38" height="7.84" fill="#084f29" stroke="#05180a" stroke-width="0.55"/>
<rect x="38.98" y="727.96" width="15.38" height="7.84" fill="#084f29" stroke="#05180a" stroke-width="0.55"/>
<rect x="54.36" y="727.96" width="15.38" height="7.84" fill="#084f29" stroke="#05180a" stroke-width="0.55"/>
<rect x="69.74" y="727.96" width="15.38" height="7.84" fill="#084f29" stroke="#05180a" stroke-width="0.55"/>
<rect x="85.12" y="727.96" width="15.38" height="7.84" fill="#084f29" stroke="#05180a" stroke-width="0.55"/>
<rect x="100.50" y="727.96" width="15.38" height="7.84" fill="#084f29" stroke="#05180a" stroke-width="0.55"/>
<rect x="115.88" y="727.96" width="15.38" height="7.84" fill="#084f29" stroke="#05180a" stroke-width="0.55"/>
<rect x="131.26" y="727.96" width="15.38" height="7.84" fill="#084f29" stroke="#05180a" stroke-width="0.55"/>
<rect x="146.64" y="727.96" width="15.38" height="7.84" fill="#084f29" stroke="#05180a" stroke-width="0.55"/>
<rect x="162.02" y="727.96" width="15.38" height="7.84" fill="#084f29" stroke="#05180a" stroke-width="0.55"/>
<rect x="177.40" y="727.96" width="15.38" height="7.84" fill="#084f29" stroke="#05180a" stroke-width="0.55"/>
<rect x="192.78" y="727.96" width="15.38" height="7.84" fill="#084f29" stroke="#05180a" stroke-width="0.55"/>
<rect x="208.16" y="727.96" width="15.38" height="7.84" fill="#084f29" stroke="#05180a" stroke-width="0.55"/>
<rect x="223.54" y="727.96" width="15.38" height="7.84" fill="#084f29" stroke="#05180a" stroke-width="0.55"/>
<rect x="23.60" y="735.80" width="15.38" height="7.84" fill="#ff0f0e" stroke="#05180a" stroke-width="0.55"/>
<rect x="38.98" y="735.80" width="15.38" height="7.84" fill="#084f29" stroke="#05180a" stroke-width="0.55"/>
<rect x="54.36" y="735.80" width="15.38" height="7.84" fill="#084f29" stroke="#05180a" stroke-width="0.55"/>
<rect x="69.74" y="735.80" width="15.38" height="7.84" fill="#084f29" stroke="#05180a" stroke-width="0.55"/>
<rect x="85.12" y="735.80" width="15.38" height="7.84" fill="#084f29" stroke="#05180a" stroke-width="0.55"/>
<rect x="100.50" y="735.80" width="15.38" height="7.84" fill="#084f29" stroke="#05180a" stroke-width="0.55"/>
<rect x="115.88" y="735.80" width="15.38" height="7.84" fill="#084f29" stroke="#05180a" stroke-width="0.55"/>
<rect x="131.26" y="735.80" width="15.38" height="7.84" fill="#084f29" stroke="#05180a" stroke-width="0.55"/>
<rect x="146.64" y="735.80" width="15.38" height="7.84" fill="#084f29" stroke="#05180a" stroke-width="0.55"/>
<rect x="162.02" y="735.80" width="15.38" height="7.84" fill="#084f29" stroke="#05180a" stroke-width="0.55"/>
<rect x="177.40" y="735.80" width="15.38" height="7.84" fill="#084f29" stroke="#05180a" stroke-width="0.55"/>
<rect x="192.78" y="735.80" width="15.38" height="7.84" fill="#084f29" stroke="#05180a" stroke-width="0.55"/>
<rect x="208.16" y="735.80" width="15.38" height="7.84" fill="#084f29" stroke="#05180a" stroke-width="0.55"/>
<rect x="223.54" y="735.80" width="15.38" height="7.84" fill="#084f29" stroke="#05180a" stroke-width="0.55"/>
<rect x="23.60" y="743.64" width="15.38" height="7.84" fill="#084f29" stroke="#05180a" stroke-width="0.55"/>
<rect x="38.98" y="743.64" width="15.38" height="7.84" fill="#084f29" stroke="#05180a" stroke-width="0.55"/>
<rect x="54.36" y="743.64" width="15.38" height="7.84" fill="#084f29" stroke="#05180a" stroke-width="0.55"/>
<rect x="69.74" y="743.64" width="15.38" height="7.84" fill="#084f29" stroke="#05180a" stroke-width="0.55"/>
<rect x="85.12" y="743.64" width="15.38" height="7.84" fill="#084f29" stroke="#05180a" stroke-width="0.55"/>
<rect x="100.50" y="743.64" width="15.38" height="7.84" fill="#084f29" stroke="#05180a" stroke-width="0.55"/>
<rect x="115.88" y="743.64" width="15.38" height="7.84" fill="#084f29" stroke="#05180a" stroke-width="0.55"/>
<rect x="131.26" y="743.64" width="15.38" height="7.84" fill="#084f29" stroke="#05180a" stroke-width="0.55"/>
<rect x="146.64" y="743.64" width="15.38" height="7.84" fill="#084f29" stroke="#05180a" stroke-width="0.55"/>
<rect x="162.02" y="743.64" width="15.38" height="7.84" fill="#084f29" stroke="#05180a" stroke-width="0.55"/>
<rect x="177.40" y="743.64" width="15.38" height="7.84" fill="#084f29" stroke="#05180a" stroke-width="0.55"/>
<rect x="192.78" y="743.64" width="15.38" height="7.84" fill="#084f29" stroke="#05180a" stroke-width="0.55"/>
<rect x="208.16" y="743.64" width="15.38" height="7.84" fill="#084f29" stroke="#05180a" stroke-width="0.55"/>
<rect x="223.54" y="743.64" width="15.38" height="7.84" fill="#084f29" stroke="#05180a" stroke-width="0.55"/>
<rect x="23.60" y="751.48" width="15.38" height="7.84" fill="#084f29" stroke="#05180a" stroke-width="0.55"/>
<rect x="38.98" y="751.48" width="15.38" height="7.84" fill="#084f29" stroke="#05180a" stroke-width="0.55"/>
<rect x="54.36" y="751.48" width="15.38" height="7.84" fill="#084f29" stroke="#05180a" stroke-width="0.55"/>
<rect x="69.74" y="751.48" width="15.38" height="7.84" fill="#084f29" stroke="#05180a" stroke-width="0.55"/>
<rect x="85.12" y="751.48" width="15.38" height="7.84" fill="#084f29" stroke="#05180a" stroke-width="0.55"/>
<rect x="100.50" y="751.48" width="15.38" height="7.84" fill="#084f29" stroke="#05180a" stroke-width="0.55"/>
<rect x="115.88" y="751.48" width="15.38" height="7.84" fill="#084f29" stroke="#05180a" stroke-width="0.55"/>
<rect x="131.26" y="751.48" width="15.38" height="7.84" fill="#084f29" stroke="#05180a" stroke-width="0.55"/>
<rect x="146.64" y="751.48" width="15.38" height="7.84" fill="#084f29" stroke="#05180a" stroke-width="0.55"/>
<rect x="162.02" y="751.48" width="15.38" height="7.84" fill="#084f29" stroke="#05180a" stroke-width="0.55"/>
<rect x="177.40" y="751.48" width="15.38" height="7.84" fill="#084f29" stroke="#05180a" stroke-width="0.55"/>
<rect x="192.78" y="751.48" width="15.38" height="7.84" fill="#084f29" stroke="#05180a" stroke-width="0.55"/>
<rect x="208.16" y="751.48" width="15.38" height="7.84" fill="#084f29" stroke="#05180a" stroke-width="0.55"/>
<rect x="223.54" y="751.48" width="15.38" height="7.84" fill="#084f29" stroke="#05180a" stroke-width="0.55"/>
<rect x="23.60" y="759.32" width="15.38" height="7.84" fill="#084f29" stroke="#05180a" stroke-width="0.55"/>
<rect x="38.98" y="759.32" width="15.38" height="7.84" fill="#084f29" stroke="#05180a" stroke-width="0.55"/>
<rect x="54.36" y="759.32" width="15.38" height="7.84" fill="#084f29" stroke="#05180a" stroke-width="0.55"/>
<rect x="69.74" y="759.32" width="15.38" height="7.84" fill="#084f29" stroke="#05180a" stroke-width="0.55"/>
<rect x="85.12" y="759.32" width="15.38" height="7.84" fill="#084f29" stroke="#05180a" stroke-width="0.55"/>
<rect x="100.50" y="759.32" width="15.38" height="7.84" fill="#084f29" stroke="#05180a" stroke-width="0.55"/>
<rect x="115.88" y="759.32" width="15.38" height="7.84" fill="#084f29" stroke="#05180a" stroke-width="0.55"/>
<rect x="131.26" y="759.32" width="15.38" height="7.84" fill="#084f29" stroke="#05180a" stroke-width="0.55"/>
<rect x="146.64" y="759.32" width="15.38" height="7.84" fill="#084f29" stroke="#05180a" stroke-width="0.55"/>
<rect x="162.02" y="759.32" width="15.38" height="7.84" fill="#084f29" stroke="#05180a" stroke-width="0.55"/>
<rect x="177.40" y="759.32" width="15.38" height="7.84" fill="#084f29" stroke="#05180a" stroke-width="0.55"/>
<rect x="192.78" y="759.32" width="15.38" height="7.84" fill="#084f29" stroke="#05180a" stroke-width="0.55"/>
<rect x="208.16" y="759.32" width="15.38" height="7.84" fill="#084f29" stroke="#05180a" stroke-width="0.55"/>
<rect x="223.54" y="759.32" width="15.38" height="7.84" fill="#084f29" stroke="#05180a" stroke-width="0.55"/>
<rect x="23.60" y="767.16" width="15.38" height="7.84" fill="#084f29" stroke="#05180a" stroke-width="0.55"/>
<rect x="38.98" y="767.16" width="15.38" height="7.84" fill="#084f29" stroke="#05180a" stroke-width="0.55"/>
<rect x="54.36" y="767.16" width="15.38" height="7.84" fill="#084f29" stroke="#05180a" stroke-width="0.55"/>
<rect x="69.74" y="767.16" width="15.38" height="7.84" fill="#084f29" stroke="#05180a" stroke-width="0.55"/>
<rect x="85.12" y="767.16" width="15.38" height="7.84" fill="#084f29" stroke="#05180a" stroke-width="0.55"/>
<rect x="100.50" y="767.16" width="15.38" height="7.84" fill="#084f29" stroke="#05180a" stroke-width="0.55"/>
<rect x="115.88" y="767.16" width="15.38" height="7.84" fill="#084f29" stroke="#05180a" stroke-width="0.55"/>
<rect x="131.26" y="767.16" width="15.38" height="7.84" fill="#084f29" stroke="#05180a" stroke-width="0.55"/>
<rect x="146.64" y="767.16" width="15.38" height="7.84" fill="#084f29" stroke="#05180a" stroke-width="0.55"/>
<rect x="162.02" y="767.16" width="15.38" height="7.84" fill="#084f29" stroke="#05180a" stroke-width="0.55"/>
<rect x="177.40" y="767.16" width="15.38" height="7.84" fill="#084f29" stroke="#05180a" stroke-width="0.55"/>
<rect x="192.78" y="767.16" width="15.38" height="7.84" fill="#084f29" stroke="#05180a" stroke-width="0.55"/>
<rect x="208.16" y="767.16" width="15.38" height="7.84" fill="#084f29" stroke="#05180a" stroke-width="0.55"/>
<rect x="223.54" y="767.16" width="15.38" height="7.84" fill="#084f29" stroke="#05180a" stroke-width="0.55"/>
<rect x="23.60" y="775.00" width="15.38" height="7.84" fill="#084f29" stroke="#05180a" stroke-width="0.55"/>
<rect x="38.98" y="775.00" width="15.38" height="7.84" fill="#084f29" stroke="#05180a" stroke-width="0.55"/>
<rect x="54.36" y="775.00" width="15.38" height="7.84" fill="#084f29" stroke="#05180a" stroke-width="0.55"/>
<rect x="69.74" y="775.00" width="15.38" height="7.84" fill="#084f29" stroke="#05180a" stroke-width="0.55"/>
<rect x="85.12" y="775.00" width="15.38" height="7.84" fill="#084f29" stroke="#05180a" stroke-width="0.55"/>
<rect x="100.50" y="775.00" width="15.38" height="7.84" fill="#084f29" stroke="#05180a" stroke-width="0.55"/>
<rect x="115.88" y="775.00" width="15.38" height="7.84" fill="#ff0f0e" stroke="#05180a" stroke-width="0.55"/>
<rect x="131.26" y="775.00" width="15.38" height="7.84" fill="#084f29" stroke="#05180a" stroke-width="0.55"/>
<rect x="146.64" y="775.00" width="15.38" height="7.84" fill="#084f29" stroke="#05180a" stroke-width="0.55"/>
<rect x="162.02" y="775.00" width="15.38" height="7.84" fill="#084f29" stroke="#05180a" stroke-width="0.55"/>
<rect x="177.40" y="775.00" width="15.38" height="7.84" fill="#084f29" stroke="#05180a" stroke-width="0.55"/>
<rect x="192.78" y="775.00" width="15.38" height="7.84" fill="#084f29" stroke="#05180a" stroke-width="0.55"/>
<rect x="208.16" y="775.00" width="15.38" height="7.84" fill="#084f29" stroke="#05180a" stroke-width="0.55"/>
<rect x="223.54" y="775.00" width="15.38" height="7.84" fill="#084f29" stroke="#05180a" stroke-width="0.55"/>
<rect x="23.6" y="618.2" width="215.32" height="164.64" fill="none" stroke="#05180a" stroke-width="1"/>
<text x="242.2" y="624.17" font-size="5.7">TWIST1</text>
<text x="242.2" y="632.01" font-size="5.7">MET</text>
<text x="242.2" y="639.85" font-size="5.7">VEGFC</text>
<text x="242.2" y="647.69" font-size="5.7">KRT5</text>
<text x="242.2" y="655.53" font-size="5.7">FSCN1</text>
<text x="242.2" y="663.37" font-size="5.7">KRT18</text>
<text x="242.2" y="671.21" font-size="5.7">CCND1</text>
<text x="242.2" y="679.05" font-size="5.7">TFRC</text>
<text x="242.2" y="686.89" font-size="5.7">EpCAM</text>
<text x="242.2" y="694.73" font-size="5.7">ECT2</text>
<text x="242.2" y="702.57" font-size="5.7">CDH1</text>
<text x="242.2" y="710.41" font-size="5.7">GATA4</text>
<text x="242.2" y="718.25" font-size="5.7">CCNE1</text>
<text x="242.2" y="726.09" font-size="5.7">MUC1</text>
<text x="242.2" y="733.93" font-size="5.7">KRT19</text>
<text x="242.2" y="741.77" font-size="5.7">SNAI2</text>
<text x="242.2" y="749.61" font-size="5.7">FAT1</text>
<text x="242.2" y="757.45" font-size="5.7">IL12B</text>
<text x="242.2" y="765.29" font-size="5.7">FN1</text>
<text x="242.2" y="773.13" font-size="5.7">CDH2</text>
<text x="242.2" y="780.97" font-size="5.7">KRT14</text>
<text transform="translate(33.39 787.3) rotate(-90)" font-size="5.8" text-anchor="end">CRC01</text>
<text transform="translate(48.77 787.3) rotate(-90)" font-size="5.8" text-anchor="end">CRC02</text>
<text transform="translate(64.15 787.3) rotate(-90)" font-size="5.8" text-anchor="end">CRC03</text>
<text transform="translate(79.53 787.3) rotate(-90)" font-size="5.8" text-anchor="end">CRC04</text>
<text transform="translate(94.91 787.3) rotate(-90)" font-size="5.8" text-anchor="end">ESCC01</text>
<text transform="translate(110.29 787.3) rotate(-90)" font-size="5.8" text-anchor="end">ESCC02</text>
<text transform="translate(125.67 787.3) rotate(-90)" font-size="5.8" text-anchor="end">ESCC03</text>
<text transform="translate(141.05 787.3) rotate(-90)" font-size="5.8" text-anchor="end">ESCC04</text>
<text transform="translate(156.43 787.3) rotate(-90)" font-size="5.8" text-anchor="end">ESCC05</text>
<text transform="translate(171.81 787.3) rotate(-90)" font-size="5.8" text-anchor="end">ESCC06</text>
<text transform="translate(187.19 787.3) rotate(-90)" font-size="5.8" text-anchor="end">ESCC07</text>
<text transform="translate(202.57 787.3) rotate(-90)" font-size="5.8" text-anchor="end">ESCC08</text>
<text transform="translate(217.95 787.3) rotate(-90)" font-size="5.8" text-anchor="end">ESCC09</text>
<text transform="translate(233.33 787.3) rotate(-90)" font-size="5.8" text-anchor="end">ESCC10</text>
</g>
<g id="panelD">
<text x="285.2" y="584.4" font-size="11.9" stroke-width="0.5">D</text>
<rect x="304.5" y="598" width="14" height="5.6" fill="#ff0f0e" stroke="#111" stroke-width="0.8"/>
<rect x="304.5" y="606.8" width="14" height="5.6" fill="#084f29" stroke="#111" stroke-width="0.8"/>
<text x="322.3" y="603.9" font-size="6.3">Positive,&#160;&#160;&#8805; 2</text>
<text x="322.3" y="612.2" font-size="6.3">Negative, &lt; 2</text>
<rect x="304.2" y="618.2" width="205.04" height="164.20" fill="#06240f"/>
<rect x="304.20" y="618.20" width="9.32" height="16.42" fill="#ff0f0e" stroke="#05180a" stroke-width="0.55"/>
<rect x="313.52" y="618.20" width="9.32" height="16.42" fill="#ff0f0e" stroke="#05180a" stroke-width="0.55"/>
<rect x="322.84" y="618.20" width="9.32" height="16.42" fill="#ff0f0e" stroke="#05180a" stroke-width="0.55"/>
<rect x="332.16" y="618.20" width="9.32" height="16.42" fill="#ff0f0e" stroke="#05180a" stroke-width="0.55"/>
<rect x="341.48" y="618.20" width="9.32" height="16.42" fill="#ff0f0e" stroke="#05180a" stroke-width="0.55"/>
<rect x="350.80" y="618.20" width="9.32" height="16.42" fill="#084f29" stroke="#05180a" stroke-width="0.55"/>
<rect x="360.12" y="618.20" width="9.32" height="16.42" fill="#ff0f0e" stroke="#05180a" stroke-width="0.55"/>
<rect x="369.44" y="618.20" width="9.32" height="16.42" fill="#084f29" stroke="#05180a" stroke-width="0.55"/>
<rect x="378.76" y="618.20" width="9.32" height="16.42" fill="#ff0f0e" stroke="#05180a" stroke-width="0.55"/>
<rect x="388.08" y="618.20" width="9.32" height="16.42" fill="#ff0f0e" stroke="#05180a" stroke-width="0.55"/>
<rect x="397.40" y="618.20" width="9.32" height="16.42" fill="#084f29" stroke="#05180a" stroke-width="0.55"/>
<rect x="406.72" y="618.20" width="9.32" height="16.42" fill="#ff0f0e" stroke="#05180a" stroke-width="0.55"/>
<rect x="416.04" y="618.20" width="9.32" height="16.42" fill="#084f29" stroke="#05180a" stroke-width="0.55"/>
<rect x="425.36" y="618.20" width="9.32" height="16.42" fill="#084f29" stroke="#05180a" stroke-width="0.55"/>
<rect x="434.68" y="618.20" width="9.32" height="16.42" fill="#084f29" stroke="#05180a" stroke-width="0.55"/>
<rect x="444.00" y="618.20" width="9.32" height="16.42" fill="#084f29" stroke="#05180a" stroke-width="0.55"/>
<rect x="453.32" y="618.20" width="9.32" height="16.42" fill="#ff0f0e" stroke="#05180a" stroke-width="0.55"/>
<rect x="462.64" y="618.20" width="9.32" height="16.42" fill="#084f29" stroke="#05180a" stroke-width="0.55"/>
<rect x="471.96" y="618.20" width="9.32" height="16.42" fill="#084f29" stroke="#05180a" stroke-width="0.55"/>
<rect x="481.28" y="618.20" width="9.32" height="16.42" fill="#084f29" stroke="#05180a" stroke-width="0.55"/>
<rect x="490.60" y="618.20" width="9.32" height="16.42" fill="#ff0f0e" stroke="#05180a" stroke-width="0.55"/>
<rect x="499.92" y="618.20" width="9.32" height="16.42" fill="#ff0f0e" stroke="#05180a" stroke-width="0.55"/>
<rect x="304.20" y="634.62" width="9.32" height="16.42" fill="#084f29" stroke="#05180a" stroke-width="0.55"/>
<rect x="313.52" y="634.62" width="9.32" height="16.42" fill="#084f29" stroke="#05180a" stroke-width="0.55"/>
<rect x="322.84" y="634.62" width="9.32" height="16.42" fill="#084f29" stroke="#05180a" stroke-width="0.55"/>
<rect x="332.16" y="634.62" width="9.32" height="16.42" fill="#084f29" stroke="#05180a" stroke-width="0.55"/>
<rect x="341.48" y="634.62" width="9.32" height="16.42" fill="#084f29" stroke="#05180a" stroke-width="0.55"/>
<rect x="350.80" y="634.62" width="9.32" height="16.42" fill="#084f29" stroke="#05180a" stroke-width="0.55"/>
<rect x="360.12" y="634.62" width="9.32" height="16.42" fill="#084f29" stroke="#05180a" stroke-width="0.55"/>
<rect x="369.44" y="634.62" width="9.32" height="16.42" fill="#084f29" stroke="#05180a" stroke-width="0.55"/>
<rect x="378.76" y="634.62" width="9.32" height="16.42" fill="#084f29" stroke="#05180a" stroke-width="0.55"/>
<rect x="388.08" y="634.62" width="9.32" height="16.42" fill="#084f29" stroke="#05180a" stroke-width="0.55"/>
<rect x="397.40" y="634.62" width="9.32" height="16.42" fill="#084f29" stroke="#05180a" stroke-width="0.55"/>
<rect x="406.72" y="634.62" width="9.32" height="16.42" fill="#084f29" stroke="#05180a" stroke-width="0.55"/>
<rect x="416.04" y="634.62" width="9.32" height="16.42" fill="#ff0f0e" stroke="#05180a" stroke-width="0.55"/>
<rect x="425.36" y="634.62" width="9.32" height="16.42" fill="#084f29" stroke="#05180a" stroke-width="0.55"/>
<rect x="434.68" y="634.62" width="9.32" height="16.42" fill="#084f29" stroke="#05180a" stroke-width="0.55"/>
<rect x="444.00" y="634.62" width="9.32" height="16.42" fill="#084f29" stroke="#05180a" stroke-width="0.55"/>
<rect x="453.32" y="634.62" width="9.32" height="16.42" fill="#084f29" stroke="#05180a" stroke-width="0.55"/>
<rect x="462.64" y="634.62" width="9.32" height="16.42" fill="#084f29" stroke="#05180a" stroke-width="0.55"/>
<rect x="471.96" y="634.62" width="9.32" height="16.42" fill="#084f29" stroke="#05180a" stroke-width="0.55"/>
<rect x="481.28" y="634.62" width="9.32" height="16.42" fill="#084f29" stroke="#05180a" stroke-width="0.55"/>
<rect x="490.60" y="634.62" width="9.32" height="16.42" fill="#084f29" stroke="#05180a" stroke-width="0.55"/>
<rect x="499.92" y="634.62" width="9.32" height="16.42" fill="#084f29" stroke="#05180a" stroke-width="0.55"/>
<rect x="304.20" y="651.04" width="9.32" height="16.42" fill="#084f29" stroke="#05180a" stroke-width="0.55"/>
<rect x="313.52" y="651.04" width="9.32" height="16.42" fill="#084f29" stroke="#05180a" stroke-width="0.55"/>
<rect x="322.84" y="651.04" width="9.32" height="16.42" fill="#ff0f0e" stroke="#05180a" stroke-width="0.55"/>
<rect x="332.16" y="651.04" width="9.32" height="16.42" fill="#084f29" stroke="#05180a" stroke-width="0.55"/>
<rect x="341.48" y="651.04" width="9.32" height="16.42" fill="#ff0f0e" stroke="#05180a" stroke-width="0.55"/>
<rect x="350.80" y="651.04" width="9.32" height="16.42" fill="#084f29" stroke="#05180a" stroke-width="0.55"/>
<rect x="360.12" y="651.04" width="9.32" height="16.42" fill="#ff0f0e" stroke="#05180a" stroke-width="0.55"/>
<rect x="369.44" y="651.04" width="9.32" height="16.42" fill="#084f29" stroke="#05180a" stroke-width="0.55"/>
<rect x="378.76" y="651.04" width="9.32" height="16.42" fill="#ff0f0e" stroke="#05180a" stroke-width="0.55"/>
<rect x="388.08" y="651.04" width="9.32" height="16.42" fill="#084f29" stroke="#05180a" stroke-width="0.55"/>
<rect x="397.40" y="651.04" width="9.32" height="16.42" fill="#ff0f0e" stroke="#05180a" stroke-width="0.55"/>
<rect x="406.72" y="651.04" width="9.32" height="16.42" fill="#ff0f0e" stroke="#05180a" stroke-width="0.55"/>
<rect x="416.04" y="651.04" width="9.32" height="16.42" fill="#084f29" stroke="#05180a" stroke-width="0.55"/>
<rect x="425.36" y="651.04" width="9.32" height="16.42" fill="#084f29" stroke="#05180a" stroke-width="0.55"/>
<rect x="434.68" y="651.04" width="9.32" height="16.42" fill="#084f29" stroke="#05180a" stroke-width="0.55"/>
<rect x="444.00" y="651.04" width="9.32" height="16.42" fill="#084f29" stroke="#05180a" stroke-width="0.55"/>
<rect x="453.32" y="651.04" width="9.32" height="16.42" fill="#084f29" stroke="#05180a" stroke-width="0.55"/>
<rect x="462.64" y="651.04" width="9.32" height="16.42" fill="#084f29" stroke="#05180a" stroke-width="0.55"/>
<rect x="471.96" y="651.04" width="9.32" height="16.42" fill="#084f29" stroke="#05180a" stroke-width="0.55"/>
<rect x="481.28" y="651.04" width="9.32" height="16.42" fill="#084f29" stroke="#05180a" stroke-width="0.55"/>
<rect x="490.60" y="651.04" width="9.32" height="16.42" fill="#ff0f0e" stroke="#05180a" stroke-width="0.55"/>
<rect x="499.92" y="651.04" width="9.32" height="16.42" fill="#ff0f0e" stroke="#05180a" stroke-width="0.55"/>
<rect x="304.20" y="667.46" width="9.32" height="16.42" fill="#084f29" stroke="#05180a" stroke-width="0.55"/>
<rect x="313.52" y="667.46" width="9.32" height="16.42" fill="#084f29" stroke="#05180a" stroke-width="0.55"/>
<rect x="322.84" y="667.46" width="9.32" height="16.42" fill="#ff0f0e" stroke="#05180a" stroke-width="0.55"/>
<rect x="332.16" y="667.46" width="9.32" height="16.42" fill="#084f29" stroke="#05180a" stroke-width="0.55"/>
<rect x="341.48" y="667.46" width="9.32" height="16.42" fill="#084f29" stroke="#05180a" stroke-width="0.55"/>
<rect x="350.80" y="667.46" width="9.32" height="16.42" fill="#084f29" stroke="#05180a" stroke-width="0.55"/>
<rect x="360.12" y="667.46" width="9.32" height="16.42" fill="#084f29" stroke="#05180a" stroke-width="0.55"/>
<rect x="369.44" y="667.46" width="9.32" height="16.42" fill="#084f29" stroke="#05180a" stroke-width="0.55"/>
<rect x="378.76" y="667.46" width="9.32" height="16.42" fill="#084f29" stroke="#05180a" stroke-width="0.55"/>
<rect x="388.08" y="667.46" width="9.32" height="16.42" fill="#084f29" stroke="#05180a" stroke-width="0.55"/>
<rect x="397.40" y="667.46" width="9.32" height="16.42" fill="#084f29" stroke="#05180a" stroke-width="0.55"/>
<rect x="406.72" y="667.46" width="9.32" height="16.42" fill="#084f29" stroke="#05180a" stroke-width="0.55"/>
<rect x="416.04" y="667.46" width="9.32" height="16.42" fill="#084f29" stroke="#05180a" stroke-width="0.55"/>
<rect x="425.36" y="667.46" width="9.32" height="16.42" fill="#084f29" stroke="#05180a" stroke-width="0.55"/>
<rect x="434.68" y="667.46" width="9.32" height="16.42" fill="#084f29" stroke="#05180a" stroke-width="0.55"/>
<rect x="444.00" y="667.46" width="9.32" height="16.42" fill="#084f29" stroke="#05180a" stroke-width="0.55"/>
<rect x="453.32" y="667.46" width="9.32" height="16.42" fill="#084f29" stroke="#05180a" stroke-width="0.55"/>
<rect x="462.64" y="667.46" width="9.32" height="16.42" fill="#084f29" stroke="#05180a" stroke-width="0.55"/>
<rect x="471.96" y="667.46" width="9.32" height="16.42" fill="#084f29" stroke="#05180a" stroke-width="0.55"/>
<rect x="481.28" y="667.46" width="9.32" height="16.42" fill="#084f29" stroke="#05180a" stroke-width="0.55"/>
<rect x="490.60" y="667.46" width="9.32" height="16.42" fill="#084f29" stroke="#05180a" stroke-width="0.55"/>
<rect x="499.92" y="667.46" width="9.32" height="16.42" fill="#084f29" stroke="#05180a" stroke-width="0.55"/>
<rect x="304.20" y="683.88" width="9.32" height="16.42" fill="#084f29" stroke="#05180a" stroke-width="0.55"/>
<rect x="313.52" y="683.88" width="9.32" height="16.42" fill="#084f29" stroke="#05180a" stroke-width="0.55"/>
<rect x="322.84" y="683.88" width="9.32" height="16.42" fill="#084f29" stroke="#05180a" stroke-width="0.55"/>
<rect x="332.16" y="683.88" width="9.32" height="16.42" fill="#084f29" stroke="#05180a" stroke-width="0.55"/>
<rect x="341.48" y="683.88" width="9.32" height="16.42" fill="#084f29" stroke="#05180a" stroke-width="0.55"/>
<rect x="350.80" y="683.88" width="9.32" height="16.42" fill="#084f29" stroke="#05180a" stroke-width="0.55"/>
<rect x="360.12" y="683.88" width="9.32" height="16.42" fill="#084f29" stroke="#05180a" stroke-width="0.55"/>
<rect x="369.44" y="683.88" width="9.32" height="16.42" fill="#084f29" stroke="#05180a" stroke-width="0.55"/>
<rect x="378.76" y="683.88" width="9.32" height="16.42" fill="#084f29" stroke="#05180a" stroke-width="0.55"/>
<rect x="388.08" y="683.88" width="9.32" height="16.42" fill="#084f29" stroke="#05180a" stroke-width="0.55"/>
<rect x="397.40" y="683.88" width="9.32" height="16.42" fill="#084f29" stroke="#05180a" stroke-width="0.55"/>
<rect x="406.72" y="683.88" width="9.32" height="16.42" fill="#084f29" stroke="#05180a" stroke-width="0.55"/>
<rect x="416.04" y="683.88" width="9.32" height="16.42" fill="#084f29" stroke="#05180a" stroke-width="0.55"/>
<rect x="425.36" y="683.88" width="9.32" height="16.42" fill="#084f29" stroke="#05180a" stroke-width="0.55"/>
<rect x="434.68" y="683.88" width="9.32" height="16.42" fill="#084f29" stroke="#05180a" stroke-width="0.55"/>
<rect x="444.00" y="683.88" width="9.32" height="16.42" fill="#084f29" stroke="#05180a" stroke-width="0.55"/>
<rect x="453.32" y="683.88" width="9.32" height="16.42" fill="#084f29" stroke="#05180a" stroke-width="0.55"/>
<rect x="462.64" y="683.88" width="9.32" height="16.42" fill="#084f29" stroke="#05180a" stroke-width="0.55"/>
<rect x="471.96" y="683.88" width="9.32" height="16.42" fill="#084f29" stroke="#05180a" stroke-width="0.55"/>
<rect x="481.28" y="683.88" width="9.32" height="16.42" fill="#084f29" stroke="#05180a" stroke-width="0.55"/>
<rect x="490.60" y="683.88" width="9.32" height="16.42" fill="#084f29" stroke="#05180a" stroke-width="0.55"/>
<rect x="499.92" y="683.88" width="9.32" height="16.42" fill="#084f29" stroke="#05180a" stroke-width="0.55"/>
<rect x="304.20" y="700.30" width="9.32" height="16.42" fill="#084f29" stroke="#05180a" stroke-width="0.55"/>
<rect x="313.52" y="700.30" width="9.32" height="16.42" fill="#084f29" stroke="#05180a" stroke-width="0.55"/>
<rect x="322.84" y="700.30" width="9.32" height="16.42" fill="#084f29" stroke="#05180a" stroke-width="0.55"/>
<rect x="332.16" y="700.30" width="9.32" height="16.42" fill="#084f29" stroke="#05180a" stroke-width="0.55"/>
<rect x="341.48" y="700.30" width="9.32" height="16.42" fill="#084f29" stroke="#05180a" stroke-width="0.55"/>
<rect x="350.80" y="700.30" width="9.32" height="16.42" fill="#084f29" stroke="#05180a" stroke-width="0.55"/>
<rect x="360.12" y="700.30" width="9.32" height="16.42" fill="#084f29" stroke="#05180a" stroke-width="0.55"/>
<rect x="369.44" y="700.30" width="9.32" height="16.42" fill="#084f29" stroke="#05180a" stroke-width="0.55"/>
<rect x="378.76" y="700.30" width="9.32" height="16.42" fill="#084f29" stroke="#05180a" stroke-width="0.55"/>
<rect x="388.08" y="700.30" width="9.32" height="16.42" fill="#084f29" stroke="#05180a" stroke-width="0.55"/>
<rect x="397.40" y="700.30" width="9.32" height="16.42" fill="#084f29" stroke="#05180a" stroke-width="0.55"/>
<rect x="406.72" y="700.30" width="9.32" height="16.42" fill="#084f29" stroke="#05180a" stroke-width="0.55"/>
<rect x="416.04" y="700.30" width="9.32" height="16.42" fill="#084f29" stroke="#05180a" stroke-width="0.55"/>
<rect x="425.36" y="700.30" width="9.32" height="16.42" fill="#084f29" stroke="#05180a" stroke-width="0.55"/>
<rect x="434.68" y="700.30" width="9.32" height="16.42" fill="#084f29" stroke="#05180a" stroke-width="0.55"/>
<rect x="444.00" y="700.30" width="9.32" height="16.42" fill="#084f29" stroke="#05180a" stroke-width="0.55"/>
<rect x="453.32" y="700.30" width="9.32" height="16.42" fill="#084f29" stroke="#05180a" stroke-width="0.55"/>
<rect x="462.64" y="700.30" width="9.32" height="16.42" fill="#084f29" stroke="#05180a" stroke-width="0.55"/>
<rect x="471.96" y="700.30" width="9.32" height="16.42" fill="#084f29" stroke="#05180a" stroke-width="0.55"/>
<rect x="481.28" y="700.30" width="9.32" height="16.42" fill="#084f29" stroke="#05180a" stroke-width="0.55"/>
<rect x="490.60" y="700.30" width="9.32" height="16.42" fill="#084f29" stroke="#05180a" stroke-width="0.55"/>
<rect x="499.92" y="700.30" width="9.32" height="16.42" fill="#084f29" stroke="#05180a" stroke-width="0.55"/>
<rect x="304.20" y="716.72" width="9.32" height="16.42" fill="#084f29" stroke="#05180a" stroke-width="0.55"/>
<rect x="313.52" y="716.72" width="9.32" height="16.42" fill="#ff0f0e" stroke="#05180a" stroke-width="0.55"/>
<rect x="322.84" y="716.72" width="9.32" height="16.42" fill="#ff0f0e" stroke="#05180a" stroke-width="0.55"/>
<rect x="332.16" y="716.72" width="9.32" height="16.42" fill="#084f29" stroke="#05180a" stroke-width="0.55"/>
<rect x="341.48" y="716.72" width="9.32" height="16.42" fill="#084f29" stroke="#05180a" stroke-width="0.55"/>
<rect x="350.80" y="716.72" width="9.32" height="16.42" fill="#084f29" stroke="#05180a" stroke-width="0.55"/>
<rect x="360.12" y="716.72" width="9.32" height="16.42" fill="#ff0f0e" stroke="#05180a" stroke-width="0.55"/>
<rect x="369.44" y="716.72" width="9.32" height="16.42" fill="#084f29" stroke="#05180a" stroke-width="0.55"/>
<rect x="378.76" y="716.72" width="9.32" height="16.42" fill="#ff0f0e" stroke="#05180a" stroke-width="0.55"/>
<rect x="388.08" y="716.72" width="9.32" height="16.42" fill="#084f29" stroke="#05180a" stroke-width="0.55"/>
<rect x="397.40" y="716.72" width="9.32" height="16.42" fill="#ff0f0e" stroke="#05180a" stroke-width="0.55"/>
<rect x="406.72" y="716.72" width="9.32" height="16.42" fill="#ff0f0e" stroke="#05180a" stroke-width="0.55"/>
<rect x="416.04" y="716.72" width="9.32" height="16.42" fill="#ff0f0e" stroke="#05180a" stroke-width="0.55"/>
<rect x="425.36" y="716.72" width="9.32" height="16.42" fill="#084f29" stroke="#05180a" stroke-width="0.55"/>
<rect x="434.68" y="716.72" width="9.32" height="16.42" fill="#084f29" stroke="#05180a" stroke-width="0.55"/>
<rect x="444.00" y="716.72" width="9.32" height="16.42" fill="#084f29" stroke="#05180a" stroke-width="0.55"/>
<rect x="453.32" y="716.72" width="9.32" height="16.42" fill="#084f29" stroke="#05180a" stroke-width="0.55"/>
<rect x="462.64" y="716.72" width="9.32" height="16.42" fill="#084f29" stroke="#05180a" stroke-width="0.55"/>
<rect x="471.96" y="716.72" width="9.32" height="16.42" fill="#084f29" stroke="#05180a" stroke-width="0.55"/>
<rect x="481.28" y="716.72" width="9.32" height="16.42" fill="#084f29" stroke="#05180a" stroke-width="0.55"/>
<rect x="490.60" y="716.72" width="9.32" height="16.42" fill="#ff0f0e" stroke="#05180a" stroke-width="0.55"/>
<rect x="499.92" y="716.72" width="9.32" height="16.42" fill="#084f29" stroke="#05180a" stroke-width="0.55"/>
<rect x="304.20" y="733.14" width="9.32" height="16.42" fill="#084f29" stroke="#05180a" stroke-width="0.55"/>
<rect x="313.52" y="733.14" width="9.32" height="16.42" fill="#ff0f0e" stroke="#05180a" stroke-width="0.55"/>
<rect x="322.84" y="733.14" width="9.32" height="16.42" fill="#ff0f0e" stroke="#05180a" stroke-width="0.55"/>
<rect x="332.16" y="733.14" width="9.32" height="16.42" fill="#ff0f0e" stroke="#05180a" stroke-width="0.55"/>
<rect x="341.48" y="733.14" width="9.32" height="16.42" fill="#ff0f0e" stroke="#05180a" stroke-width="0.55"/>
<rect x="350.80" y="733.14" width="9.32" height="16.42" fill="#084f29" stroke="#05180a" stroke-width="0.55"/>
<rect x="360.12" y="733.14" width="9.32" height="16.42" fill="#084f29" stroke="#05180a" stroke-width="0.55"/>
<rect x="369.44" y="733.14" width="9.32" height="16.42" fill="#084f29" stroke="#05180a" stroke-width="0.55"/>
<rect x="378.76" y="733.14" width="9.32" height="16.42" fill="#084f29" stroke="#05180a" stroke-width="0.55"/>
<rect x="388.08" y="733.14" width="9.32" height="16.42" fill="#084f29" stroke="#05180a" stroke-width="0.55"/>
<rect x="397.40" y="733.14" width="9.32" height="16.42" fill="#084f29" stroke="#05180a" stroke-width="0.55"/>
<rect x="406.72" y="733.14" width="9.32" height="16.42" fill="#084f29" stroke="#05180a" stroke-width="0.55"/>
<rect x="416.04" y="733.14" width="9.32" height="16.42" fill="#084f29" stroke="#05180a" stroke-width="0.55"/>
<rect x="425.36" y="733.14" width="9.32" height="16.42" fill="#084f29" stroke="#05180a" stroke-width="0.55"/>
<rect x="434.68" y="733.14" width="9.32" height="16.42" fill="#084f29" stroke="#05180a" stroke-width="0.55"/>
<rect x="444.00" y="733.14" width="9.32" height="16.42" fill="#084f29" stroke="#05180a" stroke-width="0.55"/>
<rect x="453.32" y="733.14" width="9.32" height="16.42" fill="#ff0f0e" stroke="#05180a" stroke-width="0.55"/>
<rect x="462.64" y="733.14" width="9.32" height="16.42" fill="#084f29" stroke="#05180a" stroke-width="0.55"/>
<rect x="471.96" y="733.14" width="9.32" height="16.42" fill="#084f29" stroke="#05180a" stroke-width="0.55"/>
<rect x="481.28" y="733.14" width="9.32" height="16.42" fill="#084f29" stroke="#05180a" stroke-width="0.55"/>
<rect x="490.60" y="733.14" width="9.32" height="16.42" fill="#084f29" stroke="#05180a" stroke-width="0.55"/>
<rect x="499.92" y="733.14" width="9.32" height="16.42" fill="#084f29" stroke="#05180a" stroke-width="0.55"/>
<rect x="304.20" y="749.56" width="9.32" height="16.42" fill="#084f29" stroke="#05180a" stroke-width="0.55"/>
<rect x="313.52" y="749.56" width="9.32" height="16.42" fill="#084f29" stroke="#05180a" stroke-width="0.55"/>
<rect x="322.84" y="749.56" width="9.32" height="16.42" fill="#084f29" stroke="#05180a" stroke-width="0.55"/>
<rect x="332.16" y="749.56" width="9.32" height="16.42" fill="#084f29" stroke="#05180a" stroke-width="0.55"/>
<rect x="341.48" y="749.56" width="9.32" height="16.42" fill="#084f29" stroke="#05180a" stroke-width="0.55"/>
<rect x="350.80" y="749.56" width="9.32" height="16.42" fill="#084f29" stroke="#05180a" stroke-width="0.55"/>
<rect x="360.12" y="749.56" width="9.32" height="16.42" fill="#084f29" stroke="#05180a" stroke-width="0.55"/>
<rect x="369.44" y="749.56" width="9.32" height="16.42" fill="#084f29" stroke="#05180a" stroke-width="0.55"/>
<rect x="378.76" y="749.56" width="9.32" height="16.42" fill="#084f29" stroke="#05180a" stroke-width="0.55"/>
<rect x="388.08" y="749.56" width="9.32" height="16.42" fill="#084f29" stroke="#05180a" stroke-width="0.55"/>
<rect x="397.40" y="749.56" width="9.32" height="16.42" fill="#084f29" stroke="#05180a" stroke-width="0.55"/>
<rect x="406.72" y="749.56" width="9.32" height="16.42" fill="#084f29" stroke="#05180a" stroke-width="0.55"/>
<rect x="416.04" y="749.56" width="9.32" height="16.42" fill="#084f29" stroke="#05180a" stroke-width="0.55"/>
<rect x="425.36" y="749.56" width="9.32" height="16.42" fill="#084f29" stroke="#05180a" stroke-width="0.55"/>
<rect x="434.68" y="749.56" width="9.32" height="16.42" fill="#084f29" stroke="#05180a" stroke-width="0.55"/>
<rect x="444.00" y="749.56" width="9.32" height="16.42" fill="#084f29" stroke="#05180a" stroke-width="0.55"/>
<rect x="453.32" y="749.56" width="9.32" height="16.42" fill="#084f29" stroke="#05180a" stroke-width="0.55"/>
<rect x="462.64" y="749.56" width="9.32" height="16.42" fill="#084f29" stroke="#05180a" stroke-width="0.55"/>
<rect x="471.96" y="749.56" width="9.32" height="16.42" fill="#084f29" stroke="#05180a" stroke-width="0.55"/>
<rect x="481.28" y="749.56" width="9.32" height="16.42" fill="#084f29" stroke="#05180a" stroke-width="0.55"/>
<rect x="490.60" y="749.56" width="9.32" height="16.42" fill="#084f29" stroke="#05180a" stroke-width="0.55"/>
<rect x="499.92" y="749.56" width="9.32" height="16.42" fill="#084f29" stroke="#05180a" stroke-width="0.55"/>
<rect x="304.20" y="765.98" width="9.32" height="16.42" fill="#084f29" stroke="#05180a" stroke-width="0.55"/>
<rect x="313.52" y="765.98" width="9.32" height="16.42" fill="#084f29" stroke="#05180a" stroke-width="0.55"/>
<rect x="322.84" y="765.98" width="9.32" height="16.42" fill="#084f29" stroke="#05180a" stroke-width="0.55"/>
<rect x="332.16" y="765.98" width="9.32" height="16.42" fill="#ff0f0e" stroke="#05180a" stroke-width="0.55"/>
<rect x="341.48" y="765.98" width="9.32" height="16.42" fill="#084f29" stroke="#05180a" stroke-width="0.55"/>
<rect x="350.80" y="765.98" width="9.32" height="16.42" fill="#084f29" stroke="#05180a" stroke-width="0.55"/>
<rect x="360.12" y="765.98" width="9.32" height="16.42" fill="#ff0f0e" stroke="#05180a" stroke-width="0.55"/>
<rect x="369.44" y="765.98" width="9.32" height="16.42" fill="#084f29" stroke="#05180a" stroke-width="0.55"/>
<rect x="378.76" y="765.98" width="9.32" height="16.42" fill="#084f29" stroke="#05180a" stroke-width="0.55"/>
<rect x="388.08" y="765.98" width="9.32" height="16.42" fill="#084f29" stroke="#05180a" stroke-width="0.55"/>
<rect x="397.40" y="765.98" width="9.32" height="16.42" fill="#084f29" stroke="#05180a" stroke-width="0.55"/>
<rect x="406.72" y="765.98" width="9.32" height="16.42" fill="#084f29" stroke="#05180a" stroke-width="0.55"/>
<rect x="416.04" y="765.98" width="9.32" height="16.42" fill="#084f29" stroke="#05180a" stroke-width="0.55"/>
<rect x="425.36" y="765.98" width="9.32" height="16.42" fill="#084f29" stroke="#05180a" stroke-width="0.55"/>
<rect x="434.68" y="765.98" width="9.32" height="16.42" fill="#084f29" stroke="#05180a" stroke-width="0.55"/>
<rect x="444.00" y="765.98" width="9.32" height="16.42" fill="#084f29" stroke="#05180a" stroke-width="0.55"/>
<rect x="453.32" y="765.98" width="9.32" height="16.42" fill="#084f29" stroke="#05180a" stroke-width="0.55"/>
<rect x="462.64" y="765.98" width="9.32" height="16.42" fill="#084f29" stroke="#05180a" stroke-width="0.55"/>
<rect x="471.96" y="765.98" width="9.32" height="16.42" fill="#084f29" stroke="#05180a" stroke-width="0.55"/>
<rect x="481.28" y="765.98" width="9.32" height="16.42" fill="#084f29" stroke="#05180a" stroke-width="0.55"/>
<rect x="490.60" y="765.98" width="9.32" height="16.42" fill="#084f29" stroke="#05180a" stroke-width="0.55"/>
<rect x="499.92" y="765.98" width="9.32" height="16.42" fill="#084f29" stroke="#05180a" stroke-width="0.55"/>
<rect x="304.2" y="618.2" width="205.04" height="164.20" fill="none" stroke="#05180a" stroke-width="1"/>
<text x="512.6" y="628.61" font-size="6.1">TWIST1</text>
<text x="512.6" y="645.03" font-size="6.1">MET</text>
<text x="512.6" y="661.45" font-size="6.1">VEGFC</text>
<text x="512.6" y="677.87" font-size="6.1">KRT5</text>
<text x="512.6" y="694.29" font-size="6.1">FSCN1</text>
<text x="512.6" y="710.71" font-size="6.1">KRT18</text>
<text x="512.6" y="727.13" font-size="6.1">CCND1</text>
<text x="512.6" y="743.55" font-size="6.1">TFRC</text>
<text x="512.6" y="759.97" font-size="6.1">EpCAM</text>
<text x="512.6" y="776.39" font-size="6.1">ECT2</text>
<text transform="translate(311.76 786.4) rotate(-90)" font-size="6.5" text-anchor="end">1 ET1C3</text>
<text transform="translate(321.08 786.4) rotate(-90)" font-size="6.5" text-anchor="end">2 ET1C3</text>
<text transform="translate(330.40 786.4) rotate(-90)" font-size="6.5" text-anchor="end">3 ET1C3</text>
<text transform="translate(339.72 786.4) rotate(-90)" font-size="6.5" text-anchor="end">4 ET1C3</text>
<text transform="translate(349.04 786.4) rotate(-90)" font-size="6.5" text-anchor="end">5 ET1C3</text>
<text transform="translate(358.36 786.4) rotate(-90)" font-size="6.5" text-anchor="end">6 ET1C3</text>
<text transform="translate(367.68 786.4) rotate(-90)" font-size="6.5" text-anchor="end">7 ET1C3</text>
<text transform="translate(377.00 786.4) rotate(-90)" font-size="6.5" text-anchor="end">8 ET1C3</text>
<text transform="translate(386.32 786.4) rotate(-90)" font-size="6.5" text-anchor="end">9 ET1C3</text>
<text transform="translate(395.64 786.4) rotate(-90)" font-size="6.5" text-anchor="end">10 ET1C3</text>
<text transform="translate(404.96 786.4) rotate(-90)" font-size="6.5" text-anchor="end">11 ET1C3</text>
<text transform="translate(414.28 786.4) rotate(-90)" font-size="6.5" text-anchor="end">12 ET1C3</text>
<text transform="translate(423.60 786.4) rotate(-90)" font-size="6.5" text-anchor="end">13 ET5</text>
<text transform="translate(432.92 786.4) rotate(-90)" font-size="6.5" text-anchor="end">14 ET5</text>
<text transform="translate(442.24 786.4) rotate(-90)" font-size="6.5" text-anchor="end">15 ET5</text>
<text transform="translate(451.56 786.4) rotate(-90)" font-size="6.5" text-anchor="end">16 ET5</text>
<text transform="translate(460.88 786.4) rotate(-90)" font-size="6.5" text-anchor="end">17 ET5</text>
<text transform="translate(470.20 786.4) rotate(-90)" font-size="6.5" text-anchor="end">18 ET5</text>
<text transform="translate(479.52 786.4) rotate(-90)" font-size="6.5" text-anchor="end">19 ET8</text>
<text transform="translate(488.84 786.4) rotate(-90)" font-size="6.5" text-anchor="end">20 ET8</text>
<text transform="translate(498.16 786.4) rotate(-90)" font-size="6.5" text-anchor="end">21 ET10P</text>
<text transform="translate(507.48 786.4) rotate(-90)" font-size="6.5" text-anchor="end">22 ET10P</text>
</g>
</svg></body></html>
